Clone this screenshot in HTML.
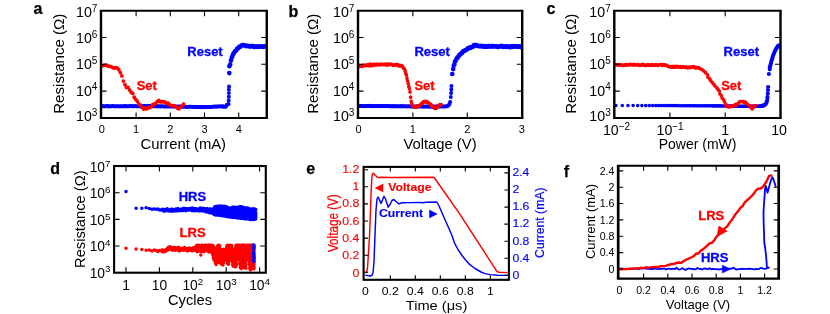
<!DOCTYPE html>
<html><head><meta charset="utf-8"><title>Figure</title>
<style>html,body{margin:0;padding:0;background:#fff}svg{display:block}</style></head>
<body><svg width="830" height="314" viewBox="0 0 830 314">
<rect width="830" height="314" fill="#fff"/>
<clipPath id="ca"><rect x="101.00" y="10.70" width="165.75" height="107.20"/></clipPath>
<path d="M101.9,106.3h0M102.7,106.0h0M103.4,106.2h0M104.2,106.2h0M105.0,106.2h0M105.8,106.2h0M106.5,106.1h0M107.3,106.2h0M108.1,106.1h0M108.9,106.4h0M109.6,106.2h0M110.4,106.2h0M111.2,106.2h0M111.9,106.2h0M112.7,106.1h0M113.5,106.2h0M114.3,106.2h0M115.0,106.2h0M115.8,106.3h0M116.6,106.2h0M117.4,106.2h0M118.1,106.3h0M118.9,106.2h0M119.7,106.2h0M120.5,106.2h0M121.2,106.2h0M122.0,106.3h0M122.8,106.2h0M123.5,106.2h0M124.3,106.3h0M125.1,106.1h0M125.9,106.2h0M126.6,106.3h0M127.4,106.2h0M128.2,106.2h0M129.0,106.2h0M129.7,106.0h0M130.5,106.3h0M131.3,106.1h0M132.0,106.1h0M132.8,106.2h0M133.6,106.2h0M134.4,106.2h0M135.1,106.1h0M135.9,106.2h0M136.7,106.2h0M137.5,106.3h0M138.2,106.3h0M139.0,106.2h0M139.8,106.3h0M140.5,106.2h0M141.3,106.1h0M142.1,106.2h0M142.9,106.2h0M143.6,106.2h0M144.4,106.1h0M145.2,106.2h0M146.0,106.0h0M146.7,106.2h0M147.5,106.2h0M148.3,106.1h0M149.0,106.2h0M149.8,106.1h0M150.6,106.3h0M151.4,106.1h0M152.1,106.1h0M152.9,106.2h0M153.7,106.3h0M154.5,106.1h0M155.2,106.2h0M156.0,106.3h0M156.8,106.2h0M157.6,106.4h0M158.3,106.2h0M159.1,106.3h0M159.9,106.2h0M160.6,106.4h0M161.4,106.3h0M162.2,106.3h0M163.0,106.3h0M163.7,106.5h0M164.5,106.5h0M165.3,106.5h0M166.1,106.5h0M166.8,106.5h0M167.6,106.4h0M168.4,106.4h0M169.1,106.4h0M169.9,106.6h0M170.7,106.4h0M171.5,106.5h0M172.2,106.5h0M173.0,106.6h0M173.8,106.6h0M174.6,106.5h0M175.3,106.5h0M176.1,106.6h0M176.9,106.7h0M177.6,106.7h0M178.4,106.7h0M179.2,106.6h0M180.0,106.7h0M180.7,106.7h0M181.5,106.8h0M182.3,106.7h0M183.1,106.7h0M183.8,106.7h0M184.6,106.8h0M185.4,106.8h0M186.1,107.0h0M186.9,106.9h0M187.7,106.9h0M188.5,106.7h0M189.2,106.8h0M190.0,106.8h0M190.8,106.9h0M191.6,106.7h0M192.3,107.0h0M193.1,107.0h0M193.9,106.8h0M194.7,106.9h0M195.4,106.9h0M196.2,107.0h0M197.0,107.0h0M197.7,107.1h0M198.5,107.0h0M199.3,107.1h0M200.1,107.0h0M200.8,107.2h0M201.6,107.1h0M202.4,107.2h0M203.2,107.0h0M203.9,107.1h0M204.7,107.0h0M205.5,107.2h0M206.2,107.1h0M207.0,107.1h0M207.8,107.1h0M208.6,107.1h0M209.3,107.0h0M210.1,106.9h0M210.9,107.0h0M211.7,107.1h0M212.4,106.8h0M213.2,106.8h0M214.0,106.7h0M214.7,106.6h0M215.5,106.7h0M216.3,106.7h0M217.1,106.6h0M217.8,106.6h0M218.6,106.5h0M219.4,106.5h0M220.2,106.3h0M220.9,106.4h0M221.7,106.4h0M222.5,106.3h0M223.2,106.3h0M224.0,107.0h0M224.8,106.8h0M225.6,106.7h0M226.3,105.9h0M227.1,104.6h0M228.6,104.0h0M228.7,100.5h0M228.8,96.7h0M228.9,93.0h0M228.9,89.5h0M229.0,86.5h0" stroke="#0000ff" stroke-width="4.0" stroke-linecap="round" fill="none" clip-path="url(#ca)"/>
<path d="M230.2,64.5h0M231.0,60.4h0M231.8,57.6h0M232.5,55.9h0M233.3,53.9h0M234.1,52.9h0M234.8,51.6h0M235.6,51.1h0M236.4,50.3h0M237.2,48.6h0M237.9,48.4h0M238.7,47.7h0M239.5,46.7h0M240.3,46.7h0M241.0,46.0h0M241.8,45.4h0M242.6,45.2h0M243.3,45.1h0M244.1,45.4h0M244.9,45.4h0M245.7,46.0h0M246.4,46.2h0M247.2,45.8h0M248.0,46.1h0M248.8,46.1h0M249.5,46.2h0M250.3,46.7h0M251.1,46.3h0M251.8,46.0h0M252.6,46.1h0M253.4,46.4h0M254.2,47.0h0M254.9,46.4h0M255.7,46.5h0M256.5,46.7h0M257.3,46.4h0M258.0,47.0h0M258.8,46.3h0M259.6,46.5h0M260.3,46.6h0M261.1,46.5h0M261.9,46.3h0M262.7,47.0h0M263.4,46.6h0M264.2,46.6h0M265.0,46.3h0M265.8,46.4h0M229.3,73.1h0M229.4,66.2h0" stroke="#0000ff" stroke-width="4.7" stroke-linecap="round" fill="none" clip-path="url(#ca)"/>
<path d="M101.9,65.6h0M103.4,65.6h0M105.0,65.3h0M106.5,65.2h0M108.1,66.0h0M109.6,66.4h0M111.1,66.6h0M112.7,67.6h0M114.2,68.1h0M115.8,67.8h0M117.3,68.1h0M118.8,69.7h0M120.4,72.6h0M121.9,75.9h0M123.4,81.1h0M125.0,84.8h0M126.5,87.4h0M128.1,87.4h0M129.6,90.0h0M131.1,92.2h0M132.7,93.4h0M134.2,97.2h0M135.8,99.4h0M137.3,101.3h0M138.8,104.0h0M140.4,105.3h0M141.9,107.2h0M143.5,109.1h0M145.0,107.9h0M146.5,108.9h0M148.1,107.7h0M149.6,107.8h0M151.1,106.7h0M152.7,104.6h0M154.2,104.3h0M155.8,103.3h0M157.3,101.6h0M158.8,100.5h0M160.4,101.9h0M161.9,101.8h0M163.5,101.6h0M165.0,102.3h0M166.5,103.2h0M168.1,103.2h0M169.6,104.6h0M171.2,105.6h0M172.7,105.6h0M174.2,105.8h0M175.8,106.7h0M177.3,108.0h0M178.9,108.7h0M180.4,107.3h0M181.9,105.9h0M183.5,104.3h0" stroke="#ff0000" stroke-width="3.9" stroke-linecap="round" fill="none" clip-path="url(#ca)"/>
<path d="M99.80,10.70H267.95M99.80,117.90H267.95" stroke="#000" stroke-width="2.0" fill="none"/>
<path d="M101.00,10.70V117.90M266.75,10.70V117.90" stroke="#000" stroke-width="2.4" fill="none"/>
<path d="M101.00,91.10L106.50,91.10M261.25,91.10L266.75,91.10M101.00,64.30L106.50,64.30M261.25,64.30L266.75,64.30M101.00,37.50L106.50,37.50M261.25,37.50L266.75,37.50M136.10,117.90L136.10,112.40M136.10,10.70L136.10,16.20M170.30,117.90L170.30,112.40M170.30,10.70L170.30,16.20M204.50,117.90L204.50,112.40M204.50,10.70L204.50,16.20M238.70,117.90L238.70,112.40M238.70,10.70L238.70,16.20" stroke="#000" stroke-width="1.1" fill="none"/>
<text x="97.40" y="121.10" font-size="14.2" text-anchor="end" font-family="Liberation Sans, Arial, sans-serif">10<tspan font-size="10" dy="-5.40">3</tspan></text>
<text x="97.40" y="95.60" font-size="14.2" text-anchor="end" font-family="Liberation Sans, Arial, sans-serif">10<tspan font-size="10" dy="-5.40">4</tspan></text>
<text x="97.40" y="69.40" font-size="14.2" text-anchor="end" font-family="Liberation Sans, Arial, sans-serif">10<tspan font-size="10" dy="-5.40">5</tspan></text>
<text x="97.40" y="42.90" font-size="14.2" text-anchor="end" font-family="Liberation Sans, Arial, sans-serif">10<tspan font-size="10" dy="-5.40">6</tspan></text>
<text x="97.40" y="17.00" font-size="14.2" text-anchor="end" font-family="Liberation Sans, Arial, sans-serif">10<tspan font-size="10" dy="-5.40">7</tspan></text>
<text x="101.90" y="133.10" font-size="11" text-anchor="middle" font-weight="normal" fill="#000" font-family="Liberation Sans, Arial, sans-serif" >0</text>
<text x="136.10" y="133.10" font-size="11" text-anchor="middle" font-weight="normal" fill="#000" font-family="Liberation Sans, Arial, sans-serif" >1</text>
<text x="170.30" y="133.10" font-size="11" text-anchor="middle" font-weight="normal" fill="#000" font-family="Liberation Sans, Arial, sans-serif" >2</text>
<text x="204.50" y="133.10" font-size="11" text-anchor="middle" font-weight="normal" fill="#000" font-family="Liberation Sans, Arial, sans-serif" >3</text>
<text x="238.70" y="133.10" font-size="11" text-anchor="middle" font-weight="normal" fill="#000" font-family="Liberation Sans, Arial, sans-serif" >4</text>
<text x="183.30" y="149.30" font-size="14.8" text-anchor="middle" font-weight="normal" fill="#000" font-family="Liberation Sans, Arial, sans-serif" >Current (mA)</text>
<text transform="translate(63.70,63.70) rotate(-90)" font-size="15.1" text-anchor="middle" font-weight="normal" fill="#000" font-family="Liberation Sans, Arial, sans-serif" >Resistance (Ω)</text>
<text x="33.50" y="13.50" font-size="16" text-anchor="start" font-weight="bold" fill="#000" font-family="Liberation Sans, Arial, sans-serif" stroke="#000" stroke-width="0.25">a</text>
<text x="146.80" y="90.00" font-size="13" text-anchor="middle" font-weight="bold" fill="#ff0000" font-family="Liberation Sans, Arial, sans-serif" stroke="#ff0000" stroke-width="0.3">Set</text>
<text x="205.00" y="55.60" font-size="13" text-anchor="middle" font-weight="bold" fill="#0000ff" font-family="Liberation Sans, Arial, sans-serif" stroke="#0000ff" stroke-width="0.3">Reset</text>
<clipPath id="cb"><rect x="358.00" y="10.70" width="164.20" height="107.20"/></clipPath>
<path d="M358.5,106.0h0M359.1,106.0h0M359.7,106.0h0M360.3,105.9h0M361.0,105.9h0M361.6,106.0h0M362.2,105.9h0M362.8,106.0h0M363.4,106.1h0M364.0,106.0h0M364.6,106.2h0M365.3,106.1h0M365.9,106.0h0M366.5,106.1h0M367.1,106.1h0M367.7,106.0h0M368.3,106.1h0M369.0,106.0h0M369.6,105.8h0M370.2,106.1h0M370.8,106.0h0M371.4,106.2h0M372.0,106.0h0M372.6,106.0h0M373.3,106.2h0M373.9,106.0h0M374.5,106.1h0M375.1,106.2h0M375.7,106.1h0M376.3,106.1h0M376.9,106.1h0M377.6,106.2h0M378.2,106.0h0M378.8,106.1h0M379.4,106.1h0M380.0,106.3h0M380.6,106.1h0M381.2,106.0h0M381.9,106.2h0M382.5,106.1h0M383.1,106.1h0M383.7,106.1h0M384.3,106.2h0M384.9,106.1h0M385.5,106.1h0M386.2,106.0h0M386.8,106.1h0M387.4,106.2h0M388.0,106.1h0M388.6,106.1h0M389.2,106.1h0M389.9,106.2h0M390.5,106.2h0M391.1,106.1h0M391.7,106.2h0M392.3,106.2h0M392.9,106.2h0M393.5,106.1h0M394.2,106.3h0M394.8,106.2h0M395.4,106.2h0M396.0,106.1h0M396.6,106.2h0M397.2,106.2h0M397.8,106.2h0M398.5,106.3h0M399.1,106.2h0M399.7,106.3h0M400.3,106.3h0M400.9,106.2h0M401.5,106.1h0M402.1,106.3h0M402.8,106.3h0M403.4,106.3h0M404.0,106.3h0M404.6,106.2h0M405.2,106.3h0M405.8,106.2h0M406.4,106.4h0M407.1,106.3h0M407.7,106.3h0M408.3,106.2h0M408.9,106.3h0M409.5,106.5h0M410.1,106.4h0M410.8,106.3h0M411.4,106.5h0M412.0,106.5h0M412.6,106.5h0M413.2,106.5h0M413.8,106.5h0M414.4,106.5h0M415.1,106.5h0M415.7,106.4h0M416.3,106.6h0M416.9,106.5h0M417.5,106.6h0M418.1,106.4h0M418.7,106.6h0M419.4,106.6h0M420.0,106.5h0M420.6,106.6h0M421.2,106.6h0M421.8,106.6h0M422.4,106.5h0M423.0,106.6h0M423.7,106.7h0M424.3,106.7h0M424.9,106.6h0M425.5,106.6h0M426.1,106.6h0M426.7,106.7h0M427.3,106.6h0M428.0,106.6h0M428.6,106.7h0M429.2,106.6h0M429.8,106.7h0M430.4,106.7h0M431.0,106.7h0M431.7,106.6h0M432.3,106.7h0M432.9,106.5h0M433.5,106.7h0M434.1,106.5h0M434.7,106.5h0M435.3,106.7h0M436.0,106.6h0M436.6,106.6h0M437.2,106.6h0M437.8,106.6h0M438.4,106.6h0M439.0,106.6h0M439.6,106.6h0M440.3,106.5h0M440.9,106.5h0M441.5,106.5h0M442.1,106.6h0M442.7,106.6h0M443.3,106.6h0M443.9,106.5h0M444.6,106.5h0M445.2,106.5h0M445.8,106.3h0M446.4,106.3h0M447.0,106.2h0M447.6,106.0h0M448.2,105.7h0M448.9,104.8h0M449.5,104.1h0M450.1,102.0h0M450.8,97.0h0M451.1,93.0h0M451.3,89.5h0M451.5,86.0h0" stroke="#0000ff" stroke-width="4.0" stroke-linecap="round" fill="none" clip-path="url(#cb)"/>
<path d="M453.2,69.1h0M453.8,65.8h0M454.4,64.4h0M455.0,61.6h0M455.6,61.0h0M456.2,59.5h0M456.9,58.4h0M457.5,57.7h0M458.1,57.0h0M458.7,56.1h0M459.3,55.0h0M459.9,54.7h0M460.5,54.0h0M461.2,53.5h0M461.8,53.2h0M462.4,52.3h0M463.0,51.7h0M463.6,51.2h0M464.2,50.8h0M464.8,50.8h0M465.5,50.0h0M466.1,50.0h0M466.7,49.5h0M467.3,49.0h0M467.9,48.3h0M468.5,48.2h0M469.1,48.2h0M469.8,47.3h0M470.4,47.9h0M471.0,47.6h0M471.6,47.1h0M472.2,46.8h0M472.8,46.9h0M473.5,46.1h0M474.1,45.1h0M474.7,45.1h0M475.3,45.2h0M475.9,45.4h0M476.5,45.0h0M477.1,46.0h0M477.8,45.9h0M478.4,46.0h0M479.0,46.0h0M479.6,46.3h0M480.2,46.1h0M480.8,45.9h0M481.4,46.3h0M482.1,46.6h0M482.7,46.2h0M483.3,46.6h0M483.9,46.4h0M484.5,46.2h0M485.1,46.8h0M485.7,46.3h0M486.4,46.7h0M487.0,46.3h0M487.6,46.6h0M488.2,46.0h0M488.8,46.2h0M489.4,46.7h0M490.1,46.5h0M490.7,46.4h0M491.3,46.2h0M491.9,46.6h0M492.5,46.2h0M493.1,46.1h0M493.7,46.4h0M494.4,46.3h0M495.0,46.3h0M495.6,46.3h0M496.2,46.5h0M496.8,46.4h0M497.4,47.0h0M498.0,46.7h0M498.7,46.8h0M499.3,46.5h0M499.9,46.4h0M500.5,46.1h0M501.1,46.4h0M501.7,45.9h0M502.3,46.2h0M503.0,46.8h0M503.6,46.9h0M504.2,46.7h0M504.8,46.4h0M505.4,46.6h0M506.0,46.3h0M506.6,46.8h0M507.3,46.6h0M507.9,46.6h0M508.5,46.9h0M509.1,46.7h0M509.7,47.2h0M510.3,46.5h0M511.0,46.4h0M511.6,46.9h0M512.2,46.9h0M512.8,46.4h0M513.4,46.6h0M514.0,46.2h0M514.6,46.5h0M515.3,46.7h0M515.9,46.6h0M516.5,46.4h0M517.1,46.3h0M517.7,46.8h0M518.3,46.7h0M518.9,46.6h0M519.6,46.6h0M520.2,46.3h0M520.8,47.1h0M452.3,74.0h0" stroke="#0000ff" stroke-width="4.7" stroke-linecap="round" fill="none" clip-path="url(#cb)"/>
<path d="M358.5,66.3h0M359.1,66.6h0M359.7,65.5h0M360.3,66.2h0M360.9,66.1h0M361.5,66.2h0M362.1,66.4h0M362.7,66.0h0M363.3,65.2h0M363.9,65.6h0M364.5,65.7h0M365.1,65.6h0M365.7,65.1h0M366.3,64.9h0M366.9,65.6h0M367.5,65.5h0M368.1,65.3h0M368.7,64.6h0M369.3,65.8h0M369.9,64.1h0M370.5,64.9h0M371.1,65.7h0M371.7,64.9h0M372.3,65.0h0M372.9,64.4h0M373.5,65.3h0M374.1,64.3h0M374.7,64.8h0M375.3,64.8h0M375.9,64.3h0M376.5,65.0h0M377.1,64.1h0M377.6,64.4h0M378.2,64.6h0M378.8,64.4h0M379.4,64.7h0M380.0,64.8h0M380.6,64.3h0M381.2,64.2h0M381.8,64.2h0M382.4,64.3h0M383.0,64.7h0M383.6,64.4h0M384.2,64.6h0M384.8,64.4h0M385.4,64.2h0M386.0,64.8h0M386.6,64.2h0M387.2,64.5h0M387.8,65.1h0M388.4,64.2h0M389.0,64.6h0M389.6,64.0h0M390.2,64.4h0M390.8,64.1h0M391.4,64.5h0M392.0,64.5h0M392.6,64.8h0M393.2,65.3h0M393.8,64.9h0M394.4,65.1h0M395.0,64.8h0M395.6,64.8h0M396.2,64.6h0M396.8,64.4h0M397.4,65.1h0M398.0,65.7h0M398.6,65.4h0M399.2,65.2h0M399.8,66.1h0M400.4,65.5h0M401.0,65.5h0M401.6,65.5h0M402.2,66.1h0M402.8,66.8h0M403.4,68.1h0M404.0,68.4h0M404.6,69.3h0M405.2,71.0h0M405.8,73.4h0M406.4,75.1h0M407.0,78.3h0M407.6,81.1h0M408.2,83.6h0M408.8,86.4h0M409.4,88.5h0M410.0,91.9h0M410.6,97.2h0M411.2,101.3h0M411.8,103.8h0M412.4,105.5h0M413.0,106.4h0M413.6,106.8h0M414.2,106.9h0M414.7,106.8h0M415.3,107.2h0M415.9,107.2h0M416.5,107.2h0M417.1,106.3h0M417.7,105.6h0M418.3,106.1h0M418.9,105.5h0M419.5,105.7h0M420.1,105.3h0M420.7,104.6h0M421.3,103.8h0M421.9,103.3h0M422.5,103.1h0M423.1,101.9h0M423.7,102.2h0M424.3,101.8h0M424.9,101.3h0M425.5,101.9h0M426.1,101.4h0M426.7,102.2h0M427.3,101.9h0M427.9,102.4h0M428.5,102.7h0M429.1,103.7h0M429.7,103.6h0M430.3,104.4h0M430.9,104.4h0M431.5,105.5h0M432.1,106.3h0M432.7,106.2h0M433.3,107.2h0M433.9,107.3h0M434.5,108.2h0M435.1,107.7h0M435.7,107.3h0M436.3,108.4h0M436.9,107.5h0M437.5,106.8h0M438.1,106.4h0M438.7,105.4h0M439.3,105.3h0M439.9,104.5h0M440.5,105.1h0M441.1,104.7h0" stroke="#ff0000" stroke-width="3.7" stroke-linecap="round" fill="none" clip-path="url(#cb)"/>
<path d="M356.80,10.70H523.40M356.80,117.90H523.40" stroke="#000" stroke-width="2.0" fill="none"/>
<path d="M358.00,10.70V117.90M522.20,10.70V117.90" stroke="#000" stroke-width="2.4" fill="none"/>
<path d="M358.00,91.10L363.50,91.10M516.70,91.10L522.20,91.10M358.00,64.30L363.50,64.30M516.70,64.30L522.20,64.30M358.00,37.50L363.50,37.50M516.70,37.50L522.20,37.50M412.90,117.90L412.90,112.40M412.90,10.70L412.90,16.20M467.30,117.90L467.30,112.40M467.30,10.70L467.30,16.20" stroke="#000" stroke-width="1.1" fill="none"/>
<text x="354.40" y="121.10" font-size="14.2" text-anchor="end" font-family="Liberation Sans, Arial, sans-serif">10<tspan font-size="10" dy="-5.40">3</tspan></text>
<text x="354.40" y="95.60" font-size="14.2" text-anchor="end" font-family="Liberation Sans, Arial, sans-serif">10<tspan font-size="10" dy="-5.40">4</tspan></text>
<text x="354.40" y="69.40" font-size="14.2" text-anchor="end" font-family="Liberation Sans, Arial, sans-serif">10<tspan font-size="10" dy="-5.40">5</tspan></text>
<text x="354.40" y="42.90" font-size="14.2" text-anchor="end" font-family="Liberation Sans, Arial, sans-serif">10<tspan font-size="10" dy="-5.40">6</tspan></text>
<text x="354.40" y="17.00" font-size="14.2" text-anchor="end" font-family="Liberation Sans, Arial, sans-serif">10<tspan font-size="10" dy="-5.40">7</tspan></text>
<text x="358.50" y="133.10" font-size="11" text-anchor="middle" font-weight="normal" fill="#000" font-family="Liberation Sans, Arial, sans-serif" >0</text>
<text x="412.90" y="133.10" font-size="11" text-anchor="middle" font-weight="normal" fill="#000" font-family="Liberation Sans, Arial, sans-serif" >1</text>
<text x="467.30" y="133.10" font-size="11" text-anchor="middle" font-weight="normal" fill="#000" font-family="Liberation Sans, Arial, sans-serif" >2</text>
<text x="521.70" y="133.10" font-size="11" text-anchor="middle" font-weight="normal" fill="#000" font-family="Liberation Sans, Arial, sans-serif" >3</text>
<text x="440.00" y="149.30" font-size="14.8" text-anchor="middle" font-weight="normal" fill="#000" font-family="Liberation Sans, Arial, sans-serif" >Voltage (V)</text>
<text transform="translate(318.40,63.70) rotate(-90)" font-size="15.1" text-anchor="middle" font-weight="normal" fill="#000" font-family="Liberation Sans, Arial, sans-serif" >Resistance (Ω)</text>
<text x="288.60" y="16.80" font-size="16" text-anchor="start" font-weight="bold" fill="#000" font-family="Liberation Sans, Arial, sans-serif" stroke="#000" stroke-width="0.25">b</text>
<text x="424.50" y="90.00" font-size="13" text-anchor="middle" font-weight="bold" fill="#ff0000" font-family="Liberation Sans, Arial, sans-serif" stroke="#ff0000" stroke-width="0.3">Set</text>
<text x="432.20" y="55.60" font-size="13" text-anchor="middle" font-weight="bold" fill="#0000ff" font-family="Liberation Sans, Arial, sans-serif" stroke="#0000ff" stroke-width="0.3">Reset</text>
<clipPath id="cc"><rect x="614.30" y="10.70" width="166.20" height="107.20"/></clipPath>
<path d="M615.9,105.5h0M622.3,105.5h0M628.0,105.5h0M633.1,105.5h0M637.7,105.6h0M641.9,105.6h0M645.7,105.6h0M649.3,105.6h0M652.6,105.6h0M655.8,105.6h0M658.7,105.6h0M661.4,105.6h0M664.0,105.6h0M666.5,105.6h0M668.9,105.6h0M671.1,105.6h0M673.2,105.6h0M675.3,105.6h0M677.3,105.6h0M679.2,105.7h0M681.0,105.7h0M682.7,105.7h0M684.4,105.7h0M686.1,105.7h0M687.6,105.7h0M689.2,105.7h0M690.6,105.7h0M692.1,105.7h0M693.5,105.7h0M694.8,105.7h0M696.2,105.7h0M697.5,105.7h0M698.7,105.7h0M699.9,105.7h0M701.1,105.7h0M702.3,105.7h0M703.4,105.7h0M704.5,105.8h0M705.6,105.8h0M706.7,105.8h0M707.7,105.8h0M708.7,105.8h0M709.7,105.8h0M710.7,105.8h0M711.6,105.8h0M712.6,105.9h0M713.5,105.9h0M714.4,105.9h0M715.3,105.9h0M716.1,105.9h0M717.0,105.9h0M717.8,105.9h0M718.7,105.9h0M719.5,105.9h0M720.3,105.9h0M721.0,106.0h0M721.8,106.0h0M722.6,106.0h0M723.3,106.0h0M724.1,106.0h0M724.8,106.0h0M725.5,106.0h0M726.2,106.0h0M726.9,106.0h0M727.6,106.0h0M728.3,106.0h0M728.9,106.0h0M729.6,106.1h0M730.2,106.1h0M730.9,106.1h0M731.5,106.1h0M732.1,106.1h0M732.7,106.1h0M733.3,106.1h0M733.9,106.1h0M734.5,106.1h0M735.1,106.1h0M735.7,106.1h0M736.3,106.1h0M736.8,106.1h0M737.4,106.1h0M737.9,106.2h0M738.5,106.2h0M739.0,106.2h0M739.5,106.2h0M740.1,106.2h0M740.6,106.2h0M741.1,106.2h0M741.6,106.2h0M742.1,106.2h0M742.6,106.2h0M743.1,106.2h0M743.6,106.2h0M744.1,106.2h0M744.6,106.2h0M745.0,106.2h0M745.5,106.2h0M746.0,106.3h0M746.4,106.3h0M746.9,106.3h0M747.4,106.3h0M747.8,106.3h0M748.2,106.3h0M748.7,106.3h0M749.1,106.3h0M749.6,106.3h0M750.0,106.3h0M750.4,106.3h0M750.8,106.3h0M751.2,106.3h0M751.7,106.3h0M752.1,106.3h0M752.5,106.3h0M752.9,106.3h0M753.3,106.3h0M753.7,106.3h0M754.1,106.3h0M754.5,106.3h0M754.9,106.3h0M755.2,106.2h0M755.6,106.2h0M756.0,106.2h0M756.4,106.2h0M756.7,106.2h0M757.1,106.2h0M757.5,106.2h0M757.8,106.2h0M758.2,106.2h0M758.6,106.2h0M758.9,106.2h0M759.3,106.2h0M759.6,106.2h0M760.0,106.2h0M760.3,106.1h0M760.7,106.1h0M761.0,106.0h0M761.3,106.0h0M761.7,105.9h0" stroke="#0000ff" stroke-width="3.6" stroke-linecap="round" fill="none" clip-path="url(#cc)"/>
<path d="M762.0,105.8h0M762.3,105.8h0M762.7,105.7h0M763.0,105.7h0M763.3,105.6h0M763.6,105.6h0M764.0,105.5h0M764.3,105.3h0M764.6,105.1h0M764.9,104.8h0M765.2,104.6h0M765.5,104.4h0M765.8,104.1h0M766.1,103.6h0M766.4,102.7h0M766.8,101.7h0M767.1,100.6h0M767.4,98.2h0M769.7,69.3h0M770.0,67.3h0M770.2,66.0h0M770.5,64.9h0M770.8,63.8h0M771.1,62.7h0M771.3,61.6h0M771.6,60.6h0M771.9,59.7h0M772.2,58.8h0M772.4,57.9h0M772.7,57.0h0M773.0,56.1h0M773.2,55.4h0M773.5,54.8h0M773.8,54.1h0M774.0,53.5h0M774.3,52.8h0M774.5,52.2h0M774.8,51.5h0M775.0,50.9h0M775.3,50.5h0M775.5,50.1h0M775.8,49.6h0M776.0,49.2h0M776.3,48.7h0M776.5,48.3h0M776.8,47.9h0M777.0,47.5h0M777.3,47.1h0M777.5,46.8h0M777.7,46.5h0M778.0,46.2h0M778.2,45.9h0M778.5,45.5h0M778.7,45.6h0M778.9,45.8h0M779.2,45.9h0M779.4,46.1h0M779.6,46.3h0M767.5,97.0h0M767.8,93.5h0M768.0,90.0h0M768.1,87.0h0M768.9,74.0h0M769.8,67.0h0" stroke="#0000ff" stroke-width="4.2" stroke-linecap="round" fill="none" clip-path="url(#cc)"/>
<path d="M614.8,64.7h0M615.7,64.7h0M616.6,65.0h0M617.5,64.5h0M618.4,65.1h0M619.3,65.1h0M620.2,64.8h0M621.1,64.9h0M622.0,65.2h0M622.9,65.4h0M623.8,65.4h0M624.7,64.9h0M625.6,65.2h0M626.5,64.7h0M627.4,65.0h0M628.3,64.6h0M629.2,65.0h0M630.1,64.4h0M631.0,64.5h0M631.9,64.8h0M632.8,65.0h0M633.7,64.4h0M634.6,64.7h0M635.5,64.9h0M636.4,65.0h0M637.3,64.7h0M638.2,65.0h0M639.1,64.9h0M640.0,65.4h0M640.9,65.1h0M641.8,64.6h0M642.7,64.3h0M643.6,65.0h0M644.5,65.4h0M645.4,65.1h0M646.3,65.3h0M647.2,64.9h0M648.1,64.7h0M649.0,65.3h0M649.9,65.1h0M650.8,65.3h0M651.7,64.7h0M652.6,65.1h0M653.5,64.9h0M654.4,65.3h0M655.3,64.9h0M656.2,64.9h0M657.1,64.9h0M658.0,65.4h0M658.9,65.1h0M659.8,64.8h0M660.7,64.7h0M661.6,64.7h0M662.5,65.5h0M663.4,64.5h0M664.3,64.8h0M665.2,65.2h0M666.1,65.4h0M667.0,65.3h0M667.9,66.2h0M668.8,66.6h0M669.7,66.8h0M670.6,66.5h0M671.5,67.1h0M672.4,66.7h0M673.3,67.2h0M674.2,66.4h0M675.1,67.1h0M676.0,66.5h0M676.9,66.4h0M677.8,67.0h0M678.7,66.7h0M679.6,67.1h0M680.5,66.6h0M681.4,67.5h0M682.3,67.0h0M683.2,66.7h0M684.1,67.1h0M685.0,67.4h0M685.9,66.9h0M686.8,67.3h0M687.7,67.8h0M688.6,67.4h0M689.5,67.2h0M690.4,67.1h0M691.3,67.5h0M692.2,66.9h0M693.1,66.5h0M694.0,67.3h0M694.9,67.2h0M695.8,68.1h0M696.7,67.7h0M697.6,67.5h0M698.5,67.5h0M699.4,68.3h0M701.8,69.4h0M703.8,71.0h0M705.6,72.7h0M707.6,74.9h0M707.9,77.2h0M709.7,78.8h0M710.6,80.5h0M712.2,82.4h0M713.9,84.3h0M714.9,85.8h0M716.9,87.8h0M718.0,89.4h0M719.3,91.1h0M720.0,93.9h0M721.3,95.6h0M722.1,98.1h0M723.8,99.8h0M724.4,101.7h0M725.8,104.3h0M726.4,106.2h0M728.0,106.7h0M729.1,106.9h0M730.2,106.7h0M731.3,106.0h0M732.4,105.8h0M733.5,106.0h0M734.6,105.2h0M735.7,104.4h0M736.8,105.1h0M737.9,103.5h0M739.0,102.4h0M740.1,101.6h0M741.2,101.5h0M742.3,101.6h0M743.4,101.6h0M744.5,102.5h0M745.6,102.2h0M746.7,103.6h0M747.8,104.5h0M748.9,105.6h0M750.0,106.8h0M751.1,106.4h0M752.2,108.9h0M753.3,107.3h0M754.4,106.5h0M755.5,105.5h0" stroke="#ff0000" stroke-width="3.7" stroke-linecap="round" fill="none" clip-path="url(#cc)"/>
<path d="M613.10,10.70H781.70M613.10,117.90H781.70" stroke="#000" stroke-width="2.0" fill="none"/>
<path d="M614.30,10.70V117.90M780.50,10.70V117.90" stroke="#000" stroke-width="2.4" fill="none"/>
<path d="M614.30,91.10L619.80,91.10M775.00,91.10L780.50,91.10M614.30,64.30L619.80,64.30M775.00,64.30L780.50,64.30M614.30,37.50L619.80,37.50M775.00,37.50L780.50,37.50M669.90,117.90L669.90,112.40M669.90,10.70L669.90,16.20M725.20,117.90L725.20,112.40M725.20,10.70L725.20,16.20" stroke="#000" stroke-width="1.1" fill="none"/>
<text x="610.70" y="121.10" font-size="14.2" text-anchor="end" font-family="Liberation Sans, Arial, sans-serif">10<tspan font-size="10" dy="-5.40">3</tspan></text>
<text x="610.70" y="95.60" font-size="14.2" text-anchor="end" font-family="Liberation Sans, Arial, sans-serif">10<tspan font-size="10" dy="-5.40">4</tspan></text>
<text x="610.70" y="69.40" font-size="14.2" text-anchor="end" font-family="Liberation Sans, Arial, sans-serif">10<tspan font-size="10" dy="-5.40">5</tspan></text>
<text x="610.70" y="42.90" font-size="14.2" text-anchor="end" font-family="Liberation Sans, Arial, sans-serif">10<tspan font-size="10" dy="-5.40">6</tspan></text>
<text x="610.70" y="17.00" font-size="14.2" text-anchor="end" font-family="Liberation Sans, Arial, sans-serif">10<tspan font-size="10" dy="-5.40">7</tspan></text>
<text x="616.50" y="135.3" font-size="14.2" text-anchor="middle" font-family="Liberation Sans, Arial, sans-serif">10<tspan font-size="10" dy="-5.4">−2</tspan></text>
<text x="670.10" y="135.3" font-size="14.2" text-anchor="middle" font-family="Liberation Sans, Arial, sans-serif">10<tspan font-size="10" dy="-5.4">−1</tspan></text>
<text x="725.20" y="135.30" font-size="14.2" text-anchor="middle" font-weight="normal" fill="#000" font-family="Liberation Sans, Arial, sans-serif" >1</text>
<text x="779.10" y="135.30" font-size="14.2" text-anchor="middle" font-weight="normal" fill="#000" font-family="Liberation Sans, Arial, sans-serif" >10</text>
<text x="697.60" y="149.30" font-size="14.0" text-anchor="middle" font-weight="normal" fill="#000" font-family="Liberation Sans, Arial, sans-serif" >Power (mW)</text>
<text transform="translate(575.50,63.70) rotate(-90)" font-size="15.1" text-anchor="middle" font-weight="normal" fill="#000" font-family="Liberation Sans, Arial, sans-serif" >Resistance (Ω)</text>
<text x="546.60" y="13.60" font-size="16" text-anchor="start" font-weight="bold" fill="#000" font-family="Liberation Sans, Arial, sans-serif" stroke="#000" stroke-width="0.25">c</text>
<text x="731.30" y="90.00" font-size="13" text-anchor="middle" font-weight="bold" fill="#ff0000" font-family="Liberation Sans, Arial, sans-serif" stroke="#ff0000" stroke-width="0.3">Set</text>
<text x="741.30" y="55.60" font-size="13" text-anchor="middle" font-weight="bold" fill="#0000ff" font-family="Liberation Sans, Arial, sans-serif" stroke="#0000ff" stroke-width="0.3">Reset</text>
<rect x="114.10" y="166.00" width="151.70" height="106.70" fill="none" stroke="#000" stroke-width="2.1"/>
<path d="M114.10,246.02L119.60,246.02M260.30,246.02L265.80,246.02M114.10,219.35L119.60,219.35M260.30,219.35L265.80,219.35M114.10,192.68L119.60,192.68M260.30,192.68L265.80,192.68M126.00,272.70L126.00,267.20M126.00,166.00L126.00,171.50M159.40,272.70L159.40,267.20M159.40,166.00L159.40,171.50M192.80,272.70L192.80,267.20M192.80,166.00L192.80,171.50M226.20,272.70L226.20,267.20M226.20,166.00L226.20,171.50M259.60,272.70L259.60,267.20M259.60,166.00L259.60,171.50" stroke="#000" stroke-width="1.1" fill="none"/>
<text x="110.50" y="277.60" font-size="13.8" text-anchor="end" font-family="Liberation Sans, Arial, sans-serif">10<tspan font-size="9.8" dy="-5.24">3</tspan></text>
<text x="110.50" y="251.20" font-size="13.8" text-anchor="end" font-family="Liberation Sans, Arial, sans-serif">10<tspan font-size="9.8" dy="-5.24">4</tspan></text>
<text x="110.50" y="224.80" font-size="13.8" text-anchor="end" font-family="Liberation Sans, Arial, sans-serif">10<tspan font-size="9.8" dy="-5.24">5</tspan></text>
<text x="110.50" y="198.40" font-size="13.8" text-anchor="end" font-family="Liberation Sans, Arial, sans-serif">10<tspan font-size="9.8" dy="-5.24">6</tspan></text>
<text x="110.50" y="172.00" font-size="13.8" text-anchor="end" font-family="Liberation Sans, Arial, sans-serif">10<tspan font-size="9.8" dy="-5.24">7</tspan></text>
<text x="126.00" y="290.10" font-size="13.8" text-anchor="middle" font-weight="normal" fill="#000" font-family="Liberation Sans, Arial, sans-serif" >1</text>
<text x="159.40" y="290.10" font-size="13.8" text-anchor="middle" font-weight="normal" fill="#000" font-family="Liberation Sans, Arial, sans-serif" >10</text>
<text x="192.80" y="290.1" font-size="13.8" text-anchor="middle" font-family="Liberation Sans, Arial, sans-serif">10<tspan font-size="9.8" dy="-5.2">2</tspan></text>
<text x="226.20" y="290.1" font-size="13.8" text-anchor="middle" font-family="Liberation Sans, Arial, sans-serif">10<tspan font-size="9.8" dy="-5.2">3</tspan></text>
<text x="259.60" y="290.1" font-size="13.8" text-anchor="middle" font-family="Liberation Sans, Arial, sans-serif">10<tspan font-size="9.8" dy="-5.2">4</tspan></text>
<text x="190.00" y="304.60" font-size="14.7" text-anchor="middle" font-weight="normal" fill="#000" font-family="Liberation Sans, Arial, sans-serif" >Cycles</text>
<text transform="translate(85.00,219.20) rotate(-90)" font-size="14.7" text-anchor="middle" font-weight="normal" fill="#000" font-family="Liberation Sans, Arial, sans-serif" >Resistance (Ω)</text>
<text x="50.30" y="174.00" font-size="16" text-anchor="start" font-weight="bold" fill="#000" font-family="Liberation Sans, Arial, sans-serif" stroke="#000" stroke-width="0.25">d</text>
<path d="M126.0,191.6h0M136.1,208.2h0M141.9,208.3h0M146.1,207.7h0M149.3,208.5h0M152.0,209.2h0M154.2,209.0h0M156.2,209.2h0M157.9,209.0h0M159.4,210.0h0M160.8,210.0h0M162.0,209.4h0M162.2,209.9h0M162.5,209.9h0M162.7,209.3h0M162.9,209.9h0M163.1,210.2h0M163.4,210.4h0M163.6,210.9h0M163.8,210.1h0M164.0,209.8h0M164.3,210.4h0M164.5,209.7h0M164.7,209.4h0M164.9,210.9h0M165.2,210.0h0M165.4,210.3h0M165.6,210.6h0M165.8,209.5h0M166.1,210.6h0M166.3,210.5h0M166.5,210.2h0M166.7,210.5h0M167.0,209.7h0M167.2,208.8h0M167.4,210.1h0M167.6,209.7h0M167.9,210.8h0M168.1,210.4h0M168.3,209.9h0M168.5,210.3h0M168.8,211.1h0M169.0,211.0h0M169.2,210.5h0M169.4,210.6h0M169.7,210.1h0M169.9,210.2h0M170.1,210.7h0M170.3,210.2h0M170.6,210.5h0M170.8,209.6h0M171.0,209.2h0M171.2,209.2h0M171.5,210.0h0M171.7,211.2h0M171.9,211.1h0M172.1,209.7h0M172.4,209.3h0M172.6,210.8h0M172.8,210.6h0M173.0,209.4h0M173.3,210.9h0M173.5,210.3h0M173.7,211.1h0M173.9,210.4h0M174.2,210.8h0M174.4,210.4h0M174.6,209.5h0M174.8,210.0h0M175.1,209.7h0M175.3,210.7h0M175.5,209.4h0M175.7,209.1h0M176.0,210.5h0M176.2,210.8h0M176.4,211.0h0M176.6,210.7h0M176.9,209.0h0M177.1,209.5h0M177.3,209.6h0M177.5,210.0h0M177.8,208.5h0M178.0,209.9h0M178.2,210.1h0M178.4,209.3h0M178.7,210.0h0M178.9,210.7h0M179.1,209.9h0M179.3,210.5h0M179.6,210.5h0M179.8,210.1h0M180.0,210.1h0M180.2,209.6h0M180.5,210.6h0M180.7,209.5h0M180.9,209.3h0M181.1,210.2h0M181.4,209.3h0M181.6,210.0h0M181.8,210.4h0M182.0,209.8h0M182.3,209.7h0M182.5,210.3h0M182.7,210.1h0M182.9,208.7h0M183.2,208.8h0M183.4,210.5h0M183.6,209.9h0M183.8,208.2h0M184.1,208.7h0M184.3,209.6h0M184.5,208.9h0M184.7,209.9h0M185.0,209.6h0M185.2,209.8h0M185.4,208.7h0M185.6,209.9h0M185.9,210.7h0M186.1,209.0h0M186.3,210.3h0M186.5,210.1h0M186.8,209.8h0M187.0,209.4h0M187.2,208.7h0M187.4,208.8h0M187.7,209.9h0M187.9,210.1h0M188.1,210.2h0M188.3,210.1h0M188.6,210.0h0M188.8,209.2h0M189.0,208.7h0M189.2,209.6h0M189.5,209.8h0M189.7,209.5h0M189.9,208.5h0M190.1,209.1h0M190.4,208.5h0M190.6,209.6h0M190.8,208.8h0M191.0,209.4h0M191.3,209.7h0M191.5,209.6h0M191.7,210.4h0M191.9,208.8h0M192.2,208.1h0M192.4,210.1h0M192.6,210.5h0M192.8,210.5h0M193.1,209.7h0M193.3,209.9h0M193.5,209.6h0M193.7,208.7h0M194.0,209.2h0M194.2,209.9h0M194.4,209.2h0M194.6,210.8h0M194.9,208.6h0M195.1,209.3h0M195.3,210.3h0M195.5,209.2h0M195.8,208.9h0M196.0,208.7h0M196.2,209.2h0M196.4,210.6h0M196.7,209.9h0M196.9,210.0h0M197.1,209.3h0M197.3,210.2h0M197.6,209.8h0M197.8,209.1h0M198.0,209.4h0M198.2,209.8h0M198.5,210.5h0M198.7,209.7h0M198.9,210.1h0M199.1,211.1h0M199.4,209.3h0M199.6,209.0h0M199.8,210.4h0M200.0,210.1h0M200.3,208.1h0M200.4,210.5h0M200.6,208.3h0M200.6,210.3h0M201.3,208.2h0M201.2,210.6h0M201.6,208.5h0M201.4,210.8h0M202.0,208.8h0M202.1,210.6h0M202.8,208.8h0M202.7,210.8h0M203.2,208.4h0M202.9,210.2h0M203.5,208.6h0M203.6,210.6h0M203.9,208.7h0M204.0,210.9h0M204.1,208.6h0M204.4,211.0h0M204.8,209.2h0M204.9,211.2h0M205.2,209.0h0M205.2,211.2h0M205.9,209.1h0M205.5,211.2h0M206.3,209.0h0M206.1,210.4h0M205.8,211.8h0M206.4,208.9h0M206.4,210.4h0M206.5,211.9h0M206.8,208.8h0M207.4,210.2h0M207.0,211.5h0M207.5,209.0h0M207.9,210.3h0M207.7,211.7h0M207.9,209.0h0M207.9,210.5h0M208.1,212.0h0M208.4,209.2h0M208.4,211.4h0M208.7,209.4h0M208.9,211.4h0M209.4,209.0h0M209.2,210.8h0M209.3,212.7h0M209.9,209.6h0M209.6,211.7h0M210.4,209.3h0M210.1,210.7h0M210.1,212.1h0M210.7,209.0h0M210.7,210.8h0M210.7,212.6h0M211.4,209.4h0M211.3,211.1h0M210.8,212.8h0M211.3,209.5h0M211.7,211.1h0M211.4,212.7h0M211.9,209.2h0M211.9,211.0h0M212.0,212.9h0M212.2,209.7h0M212.4,211.5h0M212.4,213.3h0M213.0,210.1h0M213.1,211.7h0M212.9,213.3h0M213.2,209.0h0M213.3,210.5h0M213.4,212.1h0M213.2,213.7h0M214.0,208.5h0M213.7,209.8h0M213.8,211.2h0M214.0,212.5h0M213.9,213.8h0M214.5,207.9h0M214.2,209.5h0M214.3,211.1h0M214.6,212.7h0M214.2,214.4h0M214.6,207.0h0M214.9,208.4h0M214.7,209.9h0M214.5,211.3h0M214.6,212.8h0M214.7,214.2h0M215.3,206.9h0M215.1,208.5h0M215.2,210.0h0M215.2,211.5h0M215.2,213.1h0M215.1,214.6h0M215.4,206.6h0M215.6,208.0h0M215.7,209.4h0M215.8,210.7h0M215.6,212.1h0M215.6,213.5h0M215.6,214.9h0M216.1,206.8h0M216.1,208.2h0M215.9,209.6h0M216.0,211.0h0M215.7,212.4h0M216.2,213.8h0M216.0,215.1h0M216.5,206.5h0M216.6,207.9h0M216.6,209.2h0M216.3,210.6h0M216.6,211.9h0M216.5,213.3h0M216.4,214.6h0M216.9,206.6h0M216.8,208.0h0M217.0,209.4h0M216.9,210.8h0M216.9,212.3h0M216.8,213.7h0M216.9,215.1h0M217.4,206.5h0M217.6,207.8h0M217.4,209.2h0M217.2,210.5h0M217.5,211.9h0M217.2,213.2h0M217.5,214.5h0M217.8,206.8h0M218.2,208.2h0M217.9,209.6h0M217.9,210.9h0M218.0,212.3h0M217.8,213.7h0M217.8,215.1h0M218.5,206.4h0M218.1,207.9h0M218.1,209.4h0M218.4,210.9h0M218.3,212.4h0M218.1,213.9h0M218.6,206.3h0M218.5,207.7h0M218.6,209.1h0M218.8,210.5h0M218.8,211.8h0M218.8,213.2h0M218.9,214.6h0M219.2,206.2h0M219.4,207.6h0M219.2,209.1h0M219.2,210.5h0M219.2,212.0h0M219.2,213.5h0M219.3,214.9h0M219.5,206.1h0M219.5,207.4h0M219.7,208.7h0M219.8,210.0h0M219.8,211.3h0M219.6,212.6h0M219.5,213.9h0M219.7,215.2h0M220.2,206.4h0M220.2,207.7h0M220.3,209.1h0M219.9,210.4h0M219.9,211.8h0M220.2,213.1h0M219.8,214.5h0M220.4,206.4h0M220.3,207.8h0M220.5,209.2h0M220.7,210.6h0M220.6,212.0h0M220.6,213.4h0M220.5,214.8h0M221.1,206.8h0M220.8,208.2h0M221.0,209.6h0M220.8,211.0h0M221.0,212.4h0M221.0,213.8h0M220.8,215.2h0M221.5,206.2h0M221.5,207.6h0M221.3,209.1h0M221.3,210.5h0M221.3,212.0h0M221.5,213.4h0M221.6,214.9h0M221.7,206.3h0M222.0,207.7h0M221.9,209.0h0M221.6,210.3h0M221.6,211.7h0M221.8,213.0h0M221.8,214.3h0M222.1,215.7h0M222.3,206.2h0M222.6,207.6h0M222.2,209.1h0M222.5,210.6h0M222.4,212.1h0M222.6,213.6h0M222.4,215.1h0M222.8,206.4h0M222.9,207.7h0M222.8,209.0h0M223.1,210.3h0M222.8,211.6h0M222.9,212.9h0M222.7,214.2h0M222.8,215.5h0M223.4,206.2h0M223.2,207.6h0M223.1,208.9h0M223.4,210.3h0M223.2,211.7h0M223.1,213.0h0M223.4,214.4h0M223.4,215.8h0M223.8,207.5h0M223.8,208.9h0M223.6,210.2h0M223.9,211.6h0M223.6,213.0h0M223.7,214.4h0M223.7,215.7h0M224.3,206.2h0M224.1,207.5h0M224.4,208.9h0M224.0,210.2h0M224.1,211.5h0M224.4,212.9h0M224.2,214.2h0M224.3,215.5h0M224.6,206.4h0M224.6,207.8h0M224.5,209.1h0M224.6,210.5h0M224.7,211.9h0M224.8,213.2h0M224.6,214.6h0M224.7,216.0h0M224.8,206.7h0M225.3,208.2h0M225.2,209.7h0M225.1,211.1h0M225.1,212.6h0M224.9,214.1h0M224.8,215.6h0M225.6,206.4h0M225.4,207.9h0M225.5,209.4h0M225.8,210.9h0M225.8,212.4h0M225.5,213.9h0M225.7,215.4h0M226.0,207.0h0M226.2,208.5h0M225.9,210.0h0M226.0,211.5h0M226.0,213.0h0M225.8,214.5h0M225.9,216.0h0M226.5,207.4h0M226.5,208.9h0M226.3,210.4h0M226.6,211.9h0M226.6,213.4h0M226.6,214.9h0M226.6,216.4h0M226.7,207.1h0M226.7,208.6h0M226.7,210.1h0M227.0,211.6h0M227.1,213.2h0M226.8,214.7h0M227.0,216.2h0M227.1,207.7h0M227.1,209.2h0M227.3,210.6h0M227.3,212.1h0M227.2,213.5h0M227.2,215.0h0M227.1,216.4h0M227.8,207.4h0M227.6,208.9h0M227.8,210.4h0M227.8,211.9h0M227.9,213.4h0M227.9,214.8h0M227.8,216.3h0M228.2,207.8h0M228.4,209.2h0M228.4,210.5h0M227.8,211.8h0M228.1,213.1h0M228.1,214.4h0M228.0,215.7h0M228.6,207.7h0M228.6,209.3h0M228.4,210.8h0M228.5,212.3h0M228.5,213.8h0M228.8,215.3h0M228.4,216.8h0M229.1,207.9h0M229.2,209.3h0M229.0,210.8h0M229.2,212.2h0M229.2,213.6h0M229.4,215.1h0M229.2,216.5h0M229.6,208.6h0M229.8,210.0h0M229.6,211.4h0M229.8,212.8h0M229.7,214.2h0M229.9,215.6h0M229.9,217.0h0M230.1,208.5h0M230.1,210.0h0M230.0,211.5h0M230.1,213.0h0M229.8,214.5h0M229.9,216.0h0M230.6,208.6h0M230.6,210.0h0M230.5,211.4h0M230.4,212.8h0M230.2,214.2h0M230.5,215.6h0M230.5,217.0h0M230.9,208.3h0M230.9,209.6h0M230.6,211.0h0M231.0,212.3h0M230.9,213.7h0M230.8,215.0h0M231.0,216.4h0M231.6,208.4h0M231.5,209.8h0M231.5,211.2h0M231.5,212.7h0M231.4,214.1h0M231.4,215.6h0M231.7,217.0h0M231.8,207.6h0M231.7,208.9h0M231.4,210.3h0M231.5,211.6h0M232.0,212.9h0M232.0,214.2h0M231.7,215.6h0M231.8,216.9h0M232.5,207.7h0M232.1,209.0h0M232.1,210.3h0M231.8,211.6h0M232.5,212.9h0M232.3,214.2h0M232.5,215.5h0M232.1,216.8h0M232.7,207.3h0M233.0,208.7h0M233.0,210.2h0M232.9,211.6h0M232.6,213.0h0M232.8,214.5h0M232.9,215.9h0M232.8,217.4h0M233.0,207.3h0M233.2,208.7h0M233.4,210.1h0M233.0,211.5h0M233.2,212.9h0M233.3,214.3h0M232.9,215.7h0M233.1,217.1h0M233.4,207.9h0M233.5,209.2h0M233.5,210.5h0M233.6,211.8h0M233.6,213.1h0M233.2,214.5h0M233.8,215.8h0M233.6,217.1h0M234.1,207.6h0M233.9,209.0h0M234.0,210.3h0M234.0,211.7h0M234.1,213.0h0M233.9,214.4h0M234.1,215.8h0M234.1,217.1h0M234.5,207.2h0M234.3,208.5h0M234.5,209.9h0M234.5,211.3h0M234.5,212.7h0M234.5,214.0h0M234.8,215.4h0M234.5,216.8h0M235.1,207.4h0M234.9,208.8h0M234.8,210.2h0M234.8,211.7h0M235.0,213.1h0M235.1,214.6h0M234.7,216.0h0M234.8,217.4h0M235.2,207.5h0M235.3,208.9h0M235.5,210.2h0M235.3,211.6h0M235.3,212.9h0M235.3,214.3h0M235.2,215.6h0M235.4,217.0h0M235.9,207.4h0M236.0,208.7h0M235.9,210.1h0M236.0,211.4h0M235.8,212.8h0M236.0,214.1h0M235.7,215.5h0M236.1,216.8h0M236.2,207.4h0M236.2,208.8h0M236.2,210.3h0M236.2,211.7h0M236.2,213.1h0M236.4,214.5h0M236.4,215.9h0M236.2,217.3h0M236.6,207.8h0M236.6,209.1h0M236.8,210.5h0M236.5,211.8h0M236.5,213.2h0M236.9,214.5h0M237.0,215.9h0M236.9,217.2h0M237.3,207.8h0M237.2,209.3h0M237.0,210.7h0M237.1,212.2h0M236.9,213.6h0M237.0,215.0h0M237.5,216.5h0M237.3,217.9h0M237.7,207.8h0M237.6,209.1h0M237.7,210.5h0M237.5,211.8h0M237.6,213.1h0M237.7,214.5h0M237.5,215.8h0M237.4,217.1h0M238.1,207.6h0M238.1,209.0h0M238.1,210.5h0M238.2,211.9h0M238.0,213.4h0M238.3,214.8h0M238.4,216.3h0M238.1,217.7h0M238.6,207.0h0M238.6,208.3h0M238.5,209.6h0M238.4,210.9h0M238.4,212.3h0M238.6,213.6h0M238.7,214.9h0M238.4,216.2h0M238.5,217.5h0M238.9,207.0h0M238.9,208.4h0M238.7,209.8h0M239.0,211.1h0M238.9,212.5h0M239.3,213.9h0M239.1,215.3h0M238.9,216.7h0M239.0,218.1h0M239.5,207.7h0M239.4,209.1h0M239.2,210.5h0M239.4,211.9h0M239.4,213.3h0M239.3,214.7h0M239.7,216.1h0M239.2,217.5h0M240.0,206.8h0M240.1,208.3h0M239.7,209.7h0M239.8,211.1h0M239.9,212.6h0M239.9,214.0h0M239.8,215.4h0M239.8,216.9h0M240.1,218.3h0M240.6,207.2h0M240.6,208.6h0M240.5,210.0h0M240.2,211.4h0M240.2,212.8h0M240.2,214.1h0M240.2,215.5h0M240.3,216.9h0M240.5,218.3h0M240.7,206.8h0M240.6,208.2h0M241.0,209.6h0M240.5,211.1h0M240.8,212.5h0M240.6,214.0h0M240.6,215.4h0M240.6,216.8h0M240.9,218.3h0M241.1,206.8h0M241.1,208.3h0M241.3,209.7h0M241.3,211.2h0M241.2,212.7h0M240.9,214.2h0M241.5,215.7h0M241.3,217.1h0M241.8,207.0h0M241.6,208.4h0M241.7,209.8h0M241.7,211.3h0M241.9,212.7h0M241.6,214.1h0M241.6,215.6h0M241.9,217.0h0M241.7,218.4h0M242.3,206.9h0M242.0,208.4h0M242.2,209.9h0M242.4,211.3h0M242.2,212.8h0M242.0,214.2h0M242.0,215.7h0M242.2,217.2h0M242.0,218.6h0M242.4,207.8h0M242.7,209.1h0M242.4,210.4h0M242.8,211.7h0M242.5,213.1h0M242.6,214.4h0M242.7,215.7h0M242.6,217.0h0M242.7,218.3h0M243.0,207.6h0M242.8,209.0h0M242.9,210.4h0M243.2,211.8h0M243.0,213.2h0M242.9,214.6h0M242.9,216.0h0M243.0,217.4h0M243.5,207.4h0M243.3,208.7h0M243.5,210.0h0M243.4,211.3h0M243.6,212.6h0M243.6,213.9h0M243.5,215.2h0M243.5,216.5h0M243.5,217.9h0M244.0,208.1h0M244.0,209.5h0M244.2,211.0h0M243.7,212.5h0M244.0,213.9h0M243.8,215.4h0M244.1,216.8h0M243.9,218.3h0M244.4,207.7h0M244.5,209.0h0M244.6,210.3h0M244.2,211.6h0M244.3,212.9h0M245.0,214.3h0M244.5,215.6h0M244.4,216.9h0M244.5,218.2h0M244.9,209.1h0M244.6,210.6h0M245.0,212.1h0M244.7,213.5h0M244.7,215.0h0M244.9,216.5h0M244.9,217.9h0M245.1,208.2h0M245.1,209.5h0M245.4,210.9h0M245.5,212.2h0M245.4,213.5h0M245.4,214.9h0M245.2,216.2h0M245.3,217.5h0M245.2,218.9h0M245.8,209.0h0M245.7,210.4h0M245.5,211.8h0M246.0,213.1h0M245.7,214.5h0M245.6,215.9h0M245.8,217.2h0M245.6,218.6h0M246.3,208.2h0M246.2,209.7h0M246.0,211.1h0M246.4,212.6h0M246.2,214.0h0M246.0,215.5h0M246.2,216.9h0M246.3,218.4h0M246.8,209.1h0M246.6,210.4h0M246.7,211.8h0M246.6,213.1h0M246.6,214.5h0M246.7,215.8h0M246.5,217.2h0M246.3,218.5h0M247.1,208.1h0M247.2,209.4h0M247.1,210.8h0M247.3,212.1h0M247.1,213.5h0M247.1,214.8h0M247.2,216.2h0M247.2,217.5h0M247.1,218.8h0M247.5,208.1h0M247.6,209.4h0M247.7,210.8h0M247.5,212.1h0M247.7,213.4h0M247.8,214.7h0M247.9,216.1h0M247.6,217.4h0M247.7,218.7h0M248.1,208.3h0M248.1,209.6h0M248.1,210.9h0M248.0,212.2h0M248.0,213.5h0M248.0,214.8h0M248.1,216.1h0M248.2,217.4h0M248.1,218.7h0M248.3,208.3h0M248.4,209.8h0M248.5,211.2h0M248.5,212.6h0M248.3,214.1h0M248.6,215.5h0M248.4,217.0h0M248.3,218.4h0M248.9,208.8h0M248.8,210.2h0M248.9,211.6h0M249.0,213.0h0M248.8,214.4h0M248.9,215.8h0M248.9,217.2h0M248.8,218.6h0M249.3,208.7h0M249.3,210.0h0M249.3,211.3h0M249.4,212.7h0M249.3,214.0h0M249.5,215.3h0M249.0,216.6h0M249.0,218.0h0M249.3,219.3h0M249.7,209.3h0M249.9,210.8h0M249.9,212.2h0M250.0,213.7h0M249.9,215.1h0M250.0,216.6h0M249.9,218.0h0M250.0,219.5h0M250.1,209.0h0M250.1,210.5h0M250.3,211.9h0M249.9,213.4h0M250.3,214.8h0M250.1,216.3h0M250.4,217.8h0M250.3,219.2h0M250.4,209.4h0M250.7,210.8h0M250.8,212.3h0M250.4,213.8h0M250.8,215.2h0M250.7,216.7h0M250.7,218.1h0M250.5,219.6h0M251.1,209.5h0M251.0,210.9h0M251.3,212.3h0M251.3,213.7h0M251.2,215.1h0M251.3,216.5h0M251.1,217.9h0M251.2,219.3h0M252.0,209.2h0M251.7,210.7h0M251.5,212.2h0M251.7,213.6h0M251.4,215.1h0M251.7,216.5h0M251.7,218.0h0M251.5,219.5h0M252.1,209.0h0M252.0,210.4h0M252.3,211.8h0M252.2,213.3h0M252.0,214.7h0M251.8,216.2h0M252.4,217.6h0M252.3,219.0h0M252.5,208.9h0M252.4,210.2h0M252.8,211.5h0M252.5,212.8h0M252.3,214.1h0M252.4,215.4h0M252.1,216.7h0M252.6,218.0h0M252.6,219.3h0M252.8,209.4h0M253.0,210.9h0M253.1,212.3h0M253.1,213.8h0M252.9,215.2h0M253.1,216.7h0M253.0,218.2h0M253.4,209.2h0M253.3,210.7h0M253.4,212.1h0M253.3,213.6h0M253.4,215.0h0M253.5,216.5h0M253.5,217.9h0M253.6,219.4h0M253.7,209.2h0M253.9,210.6h0M254.0,212.0h0M253.7,213.4h0M253.7,214.8h0M253.7,216.2h0M253.7,217.6h0M253.8,219.0h0M254.1,209.1h0M254.3,210.5h0M254.2,211.9h0M254.2,213.4h0M254.5,214.8h0M254.3,216.2h0M254.4,217.7h0M254.3,219.1h0M254.7,209.1h0M254.5,210.5h0M254.9,211.9h0M254.9,213.3h0M254.8,214.7h0M254.8,216.1h0M254.8,217.5h0M254.8,218.9h0M255.3,209.3h0M255.1,210.7h0M255.1,212.1h0M255.5,213.6h0M255.3,215.0h0M255.2,216.4h0M255.1,217.9h0M254.8,219.3h0M255.8,209.5h0M255.3,210.9h0M255.5,212.3h0M255.9,213.6h0M255.8,215.0h0M255.7,216.4h0M255.8,217.8h0M255.6,219.1h0" stroke="#0000ff" stroke-width="3.5" stroke-linecap="round" fill="none"/>
<path d="M126.0,248.2h0M136.1,248.9h0M141.9,249.6h0M146.1,250.2h0M149.3,250.0h0M152.0,251.0h0M154.2,250.1h0M156.2,250.4h0M157.9,251.6h0M159.4,250.5h0M160.8,250.8h0M162.0,249.9h0M162.2,250.4h0M162.5,250.1h0M162.7,250.3h0M162.9,251.1h0M163.1,251.9h0M163.4,251.2h0M163.6,251.8h0M163.8,250.2h0M164.0,251.7h0M164.3,251.0h0M164.5,251.6h0M164.7,250.2h0M164.9,250.4h0M165.2,251.5h0M165.4,250.9h0M165.6,250.3h0M165.8,249.8h0M166.1,250.0h0M166.3,250.4h0M166.5,250.4h0M166.7,249.5h0M167.0,249.4h0M167.2,250.0h0M167.4,248.6h0M167.6,250.2h0M167.9,249.3h0M168.1,249.2h0M168.3,247.2h0M168.5,247.8h0M168.8,248.0h0M169.0,248.4h0M169.2,247.8h0M169.4,248.9h0M169.7,248.5h0M169.9,248.2h0M170.1,246.7h0M170.3,249.3h0M170.6,248.1h0M170.8,248.8h0M171.0,248.0h0M171.2,248.5h0M171.5,249.1h0M171.7,248.8h0M171.9,249.4h0M172.1,248.6h0M172.4,250.3h0M172.6,247.4h0M172.8,248.5h0M173.0,249.7h0M173.3,248.8h0M173.5,248.7h0M173.7,247.7h0M173.9,249.9h0M174.2,247.6h0M174.4,249.4h0M174.6,249.2h0M174.8,249.7h0M175.1,250.2h0M175.3,248.6h0M175.5,248.5h0M175.7,248.9h0M176.0,247.8h0M176.2,249.7h0M176.4,248.8h0M176.6,249.3h0M176.9,248.3h0M177.1,249.2h0M177.3,248.7h0M177.5,249.1h0M177.8,248.4h0M178.0,250.0h0M178.2,248.7h0M178.4,247.3h0M178.7,249.7h0M178.9,249.0h0M179.1,248.6h0M179.3,251.1h0M179.6,249.2h0M179.8,248.2h0M180.0,248.8h0M180.2,249.6h0M180.5,249.1h0M180.7,250.2h0M180.9,250.1h0M181.1,248.7h0M181.4,249.3h0M181.6,249.7h0M181.8,248.9h0M182.0,248.9h0M182.3,249.9h0M182.5,249.6h0M182.7,248.2h0M182.9,248.8h0M183.2,248.9h0M183.4,249.1h0M183.6,248.7h0M183.8,250.2h0M184.1,248.5h0M184.3,248.4h0M184.5,249.4h0M184.7,247.5h0M185.0,248.4h0M185.2,249.7h0M185.4,248.2h0M185.6,248.6h0M185.9,250.0h0M186.1,249.6h0M186.3,249.3h0M186.5,249.4h0M186.8,248.7h0M187.0,249.4h0M187.2,249.0h0M187.4,251.1h0M187.7,249.6h0M187.9,248.9h0M188.1,249.2h0M188.3,249.2h0M188.6,248.2h0M188.8,248.6h0M189.0,250.3h0M189.2,248.1h0M189.5,248.7h0M189.7,250.0h0M189.9,250.3h0M190.1,248.4h0M190.4,250.3h0M190.6,248.9h0M190.8,250.4h0M191.0,249.5h0M191.3,248.9h0M191.5,249.7h0M191.7,249.5h0M191.9,248.5h0M192.2,250.7h0M192.4,248.8h0M192.6,249.9h0M192.8,248.7h0M193.1,247.7h0M193.3,248.2h0M193.5,248.9h0M193.7,249.5h0M194.0,250.3h0M194.2,249.1h0M194.4,248.8h0M194.6,248.0h0M194.9,248.9h0M195.1,249.2h0M195.3,247.3h0M195.5,249.9h0M195.8,249.8h0M196.0,250.6h0M196.2,245.7h0M196.0,247.4h0M196.1,249.0h0M196.1,250.6h0M196.9,245.4h0M196.6,246.8h0M196.5,248.2h0M196.8,249.6h0M196.7,251.0h0M197.1,245.6h0M197.3,247.1h0M197.0,248.6h0M197.2,250.2h0M197.2,251.7h0M197.4,245.2h0M197.5,246.6h0M197.6,248.0h0M197.4,249.4h0M197.5,250.8h0M197.9,246.8h0M197.9,248.1h0M198.2,249.5h0M197.6,250.8h0M198.4,245.4h0M198.6,246.8h0M198.3,248.2h0M198.5,249.7h0M198.5,251.1h0M198.9,245.2h0M199.1,246.5h0M198.9,247.9h0M198.8,249.3h0M198.9,250.6h0M199.1,245.4h0M199.2,247.3h0M199.4,249.1h0M200.3,245.7h0M200.0,247.1h0M199.8,248.6h0M199.7,250.1h0M200.5,246.0h0M200.4,247.9h0M200.5,249.8h0M200.5,245.7h0M200.7,247.1h0M200.9,248.5h0M200.8,249.9h0M200.4,251.3h0M201.2,245.5h0M201.1,246.8h0M201.1,248.2h0M201.1,249.5h0M201.3,250.9h0M201.7,245.3h0M201.4,246.9h0M201.6,248.4h0M201.9,249.9h0M201.5,251.4h0M201.9,245.2h0M202.1,246.7h0M202.2,248.2h0M202.2,249.8h0M202.3,245.3h0M202.6,246.8h0M202.6,248.3h0M202.5,249.8h0M202.5,251.3h0M202.9,245.8h0M202.8,247.2h0M203.0,248.7h0M202.9,250.1h0M203.0,251.5h0M203.4,246.1h0M203.8,247.5h0M203.2,248.9h0M203.5,250.3h0M204.2,245.8h0M203.8,247.3h0M204.0,248.8h0M203.9,250.3h0M203.8,251.8h0M204.4,245.7h0M204.4,247.4h0M204.2,249.2h0M204.6,245.5h0M204.4,247.0h0M204.9,248.5h0M204.9,250.0h0M205.0,245.4h0M205.3,247.0h0M205.2,248.6h0M205.3,250.1h0M205.4,245.1h0M205.7,246.5h0M205.4,247.9h0M205.7,249.2h0M206.2,245.7h0M206.1,247.5h0M206.2,249.3h0M206.6,245.6h0M206.9,247.2h0M206.7,248.9h0M206.7,250.5h0M206.9,246.1h0M207.0,247.7h0M207.1,249.2h0M207.2,250.8h0M207.5,245.5h0M207.7,246.8h0M207.4,248.1h0M207.5,249.4h0M207.7,250.7h0M208.1,245.3h0M208.2,246.8h0M208.1,248.3h0M207.7,249.8h0M207.9,251.3h0M208.4,245.3h0M208.7,246.8h0M208.6,248.3h0M208.2,249.8h0M208.3,251.3h0M208.8,246.6h0M208.8,248.0h0M208.6,249.4h0M208.8,250.7h0M208.9,252.1h0M209.2,245.5h0M209.6,247.0h0M209.2,248.6h0M209.1,250.1h0M209.7,245.6h0M209.7,247.1h0M209.5,248.6h0M209.7,250.1h0M210.5,245.2h0M210.4,246.5h0M209.9,247.9h0M210.1,249.2h0M210.9,245.7h0M210.3,247.2h0M210.4,248.7h0M210.5,250.2h0M210.7,251.7h0M211.1,246.0h0M211.2,247.7h0M210.9,249.4h0M211.1,251.1h0M211.7,245.2h0M211.5,246.8h0M211.7,248.4h0M211.4,249.9h0M211.8,251.5h0M212.0,246.2h0M212.0,247.7h0M211.8,249.3h0M212.1,250.8h0M212.1,252.4h0M212.6,245.8h0M212.4,247.2h0M212.3,248.7h0M212.7,250.1h0M212.3,251.6h0M212.5,253.0h0M212.6,254.5h0M212.8,245.6h0M212.9,247.0h0M212.9,248.4h0M213.0,249.8h0M213.0,251.2h0M212.9,252.6h0M212.9,254.0h0M213.0,245.8h0M213.7,247.2h0M213.3,248.5h0M213.5,249.9h0M213.1,251.3h0M213.3,252.6h0M213.1,254.0h0M213.5,255.4h0M213.5,256.7h0M213.3,258.1h0M213.7,249.0h0M213.7,250.4h0M213.9,251.8h0M213.8,253.1h0M213.6,254.5h0M213.8,255.9h0M213.9,257.3h0M214.0,258.6h0M214.2,252.1h0M214.2,253.4h0M214.3,254.7h0M214.2,256.0h0M214.2,257.3h0M214.2,258.6h0M214.1,259.9h0M214.6,249.0h0M214.7,250.4h0M214.7,251.9h0M214.8,253.3h0M215.0,254.7h0M214.5,256.2h0M214.7,257.6h0M214.4,259.1h0M214.7,260.5h0M215.0,249.0h0M214.9,250.4h0M215.2,251.8h0M215.4,253.2h0M215.0,254.6h0M215.4,256.0h0M215.1,257.4h0M214.9,258.8h0M215.2,260.2h0M215.3,261.5h0M215.5,251.6h0M215.7,253.0h0M215.7,254.4h0M215.4,255.9h0M215.3,257.3h0M215.3,258.7h0M215.5,260.1h0M215.6,261.5h0M215.3,262.9h0M216.1,248.1h0M216.1,249.5h0M216.2,250.8h0M215.8,252.2h0M216.1,253.6h0M215.8,255.0h0M216.2,256.3h0M215.9,257.7h0M216.1,259.1h0M215.9,260.4h0M216.1,261.8h0M215.8,263.2h0M216.1,264.6h0M216.5,251.5h0M216.6,253.0h0M216.6,254.4h0M216.8,255.9h0M216.4,257.4h0M216.4,258.8h0M216.4,260.3h0M216.6,261.7h0M216.5,263.2h0M217.0,249.4h0M216.6,250.7h0M217.1,252.0h0M216.8,253.3h0M216.9,254.6h0M217.0,256.0h0M216.9,257.3h0M217.5,246.2h0M217.6,247.5h0M217.3,248.9h0M217.4,250.2h0M217.5,251.5h0M217.6,252.8h0M217.4,254.2h0M217.2,255.5h0M217.1,256.8h0M217.6,258.2h0M217.2,259.5h0M217.9,245.4h0M217.8,246.7h0M217.9,248.0h0M217.9,249.3h0M218.0,250.6h0M217.9,251.9h0M217.7,253.3h0M217.5,254.6h0M217.9,255.9h0M217.7,257.2h0M218.1,258.5h0M217.6,259.8h0M217.9,261.1h0M217.7,262.4h0M218.3,245.7h0M218.4,247.1h0M218.2,248.4h0M218.2,249.7h0M218.2,251.1h0M218.6,252.4h0M218.3,253.7h0M218.4,255.1h0M218.5,256.4h0M218.3,257.8h0M218.8,245.2h0M218.7,246.5h0M218.9,247.8h0M218.5,249.1h0M218.8,250.4h0M218.5,251.7h0M218.6,253.0h0M218.7,254.3h0M219.0,255.6h0M218.6,256.9h0M218.6,258.2h0M219.3,246.0h0M219.5,247.4h0M219.2,248.7h0M218.9,250.1h0M219.1,251.5h0M219.0,252.8h0M219.5,254.2h0M219.0,255.6h0M219.2,256.9h0M219.1,258.3h0M219.5,245.4h0M219.5,246.7h0M219.5,248.1h0M219.5,249.4h0M219.5,250.7h0M219.7,252.0h0M219.6,253.3h0M219.7,254.6h0M219.6,256.0h0M219.9,257.3h0M220.1,251.1h0M220.2,252.4h0M220.1,253.7h0M220.0,255.1h0M220.2,256.4h0M220.5,248.7h0M220.3,250.2h0M220.4,251.6h0M220.4,253.0h0M220.6,254.4h0M220.7,255.9h0M220.4,257.3h0M220.5,258.7h0M220.4,260.2h0M220.3,261.6h0M220.5,263.0h0M220.9,250.6h0M220.6,251.9h0M221.1,253.3h0M221.2,254.6h0M221.1,255.9h0M221.1,257.3h0M221.2,258.6h0M221.4,260.0h0M221.0,261.3h0M221.2,262.6h0M221.1,264.0h0M221.3,249.6h0M221.5,251.0h0M221.4,252.4h0M221.3,253.8h0M221.3,255.2h0M221.3,256.5h0M221.7,257.9h0M221.4,259.3h0M221.5,260.7h0M221.3,262.1h0M221.3,263.4h0M222.2,250.2h0M222.2,251.5h0M222.0,252.9h0M222.0,254.2h0M221.9,255.5h0M221.8,256.8h0M222.2,258.1h0M221.7,259.4h0M221.9,260.7h0M221.6,262.1h0M221.7,263.4h0M222.3,250.3h0M222.2,251.7h0M222.3,253.1h0M222.3,254.5h0M222.5,255.8h0M222.6,257.2h0M222.4,258.6h0M222.3,259.9h0M222.2,261.3h0M222.4,262.7h0M222.3,264.1h0M222.7,250.0h0M222.7,251.4h0M222.7,252.7h0M222.9,254.1h0M222.6,255.4h0M222.8,256.8h0M222.9,258.1h0M223.1,259.5h0M222.9,260.9h0M222.8,262.2h0M222.7,263.6h0M222.9,264.9h0M223.2,250.6h0M223.0,252.0h0M223.1,253.4h0M223.4,254.8h0M223.5,256.2h0M223.4,257.7h0M223.2,259.1h0M223.1,260.5h0M223.3,261.9h0M223.3,263.3h0M223.8,249.3h0M223.8,250.6h0M223.9,251.9h0M223.8,253.2h0M223.5,254.6h0M223.5,255.9h0M223.9,257.2h0M223.8,258.5h0M224.3,250.9h0M224.1,252.4h0M224.2,253.8h0M223.7,255.2h0M224.0,256.7h0M224.3,258.1h0M224.3,259.5h0M223.8,261.0h0M224.6,251.0h0M224.4,252.5h0M224.6,254.1h0M224.7,255.6h0M224.4,257.2h0M224.7,251.1h0M225.1,252.4h0M225.2,253.7h0M225.0,255.1h0M225.0,256.4h0M225.0,257.7h0M224.9,259.0h0M225.6,250.5h0M225.7,251.8h0M225.5,253.2h0M225.6,254.5h0M225.8,255.9h0M225.7,257.2h0M225.5,258.5h0M225.4,259.9h0M226.0,250.5h0M226.0,251.9h0M226.0,253.2h0M225.9,254.6h0M226.5,248.6h0M226.5,249.9h0M226.4,251.2h0M226.4,252.5h0M226.4,253.8h0M226.3,255.1h0M226.2,256.4h0M227.0,245.5h0M226.7,246.9h0M226.7,248.2h0M227.1,249.6h0M227.0,250.9h0M226.8,252.3h0M226.7,253.6h0M226.8,255.0h0M226.8,256.3h0M227.4,245.3h0M227.2,246.7h0M227.0,248.1h0M227.1,249.5h0M227.3,250.8h0M227.1,252.2h0M226.9,253.6h0M227.5,255.0h0M227.4,256.4h0M227.2,257.8h0M227.2,259.2h0M227.4,260.5h0M227.5,261.9h0M227.2,263.3h0M227.8,245.4h0M227.6,246.7h0M227.4,248.1h0M227.7,249.5h0M227.7,250.9h0M227.8,252.3h0M227.6,253.7h0M227.9,255.1h0M227.7,256.5h0M228.0,257.9h0M227.7,259.3h0M228.0,260.6h0M227.7,262.0h0M227.8,263.4h0M228.0,245.7h0M228.5,247.1h0M227.9,248.5h0M228.1,249.9h0M228.3,251.3h0M228.4,252.7h0M228.1,254.1h0M228.2,255.5h0M228.0,256.9h0M228.1,258.2h0M228.3,259.6h0M228.2,261.0h0M228.2,262.4h0M228.7,245.4h0M228.6,246.7h0M228.5,248.1h0M228.7,249.4h0M228.5,250.8h0M228.8,252.1h0M229.0,253.4h0M228.9,254.8h0M229.0,256.1h0M228.5,257.5h0M228.7,258.8h0M228.5,260.2h0M228.5,261.5h0M228.4,262.9h0M228.4,264.2h0M229.3,245.7h0M229.2,247.0h0M229.0,248.4h0M229.1,249.8h0M229.2,251.1h0M229.3,252.5h0M229.0,253.9h0M229.0,255.2h0M229.0,256.6h0M229.3,257.9h0M229.2,259.3h0M229.3,245.3h0M229.5,246.8h0M229.5,248.2h0M229.5,249.6h0M229.6,251.0h0M229.6,252.5h0M230.0,253.9h0M229.6,255.3h0M229.7,256.7h0M229.4,258.2h0M229.8,246.3h0M230.0,247.7h0M230.2,249.1h0M230.0,250.6h0M229.6,252.0h0M230.2,253.4h0M230.0,254.8h0M230.1,256.3h0M229.8,257.7h0M230.1,259.1h0M230.2,260.5h0M230.4,245.6h0M230.3,247.0h0M230.4,248.3h0M230.3,249.7h0M230.6,251.1h0M230.4,252.4h0M230.3,253.8h0M230.7,255.2h0M230.5,256.5h0M230.9,245.8h0M230.8,247.2h0M230.9,248.7h0M230.9,250.1h0M230.9,251.5h0M231.0,252.9h0M230.6,254.3h0M230.9,255.8h0M230.8,257.2h0M230.9,258.6h0M231.5,245.4h0M231.3,246.8h0M231.5,248.2h0M231.5,249.6h0M231.3,251.0h0M231.2,252.4h0M231.4,253.7h0M231.5,255.1h0M231.4,256.5h0M231.7,245.9h0M231.9,247.4h0M231.8,248.8h0M231.9,250.3h0M231.8,251.7h0M232.1,253.2h0M231.8,254.7h0M231.9,256.1h0M232.5,251.2h0M232.2,252.7h0M232.3,254.2h0M232.5,255.7h0M232.3,257.3h0M232.2,258.8h0M232.9,250.2h0M232.8,251.6h0M232.7,253.0h0M232.6,254.4h0M232.5,255.8h0M233.1,257.2h0M232.6,258.6h0M232.7,260.0h0M232.6,261.4h0M232.7,262.8h0M232.6,264.2h0M233.2,249.3h0M233.1,250.7h0M233.3,252.1h0M233.0,253.5h0M233.2,254.9h0M233.0,256.3h0M232.9,257.7h0M233.0,259.1h0M233.0,260.5h0M233.0,261.9h0M233.1,263.3h0M233.3,264.7h0M233.0,266.1h0M233.5,249.3h0M233.7,250.6h0M233.7,251.9h0M233.5,253.2h0M233.6,254.5h0M233.6,255.8h0M233.4,257.2h0M233.6,258.5h0M233.6,259.8h0M233.9,261.1h0M233.4,262.4h0M233.5,263.7h0M233.6,265.0h0M234.0,250.0h0M234.0,251.3h0M234.1,252.7h0M233.8,254.0h0M234.1,255.3h0M233.7,256.6h0M234.3,258.0h0M234.2,259.3h0M234.0,260.6h0M234.2,261.9h0M234.0,263.3h0M234.1,264.6h0M234.6,250.0h0M234.5,251.4h0M234.4,252.8h0M234.4,254.2h0M234.2,255.6h0M234.7,257.0h0M234.6,258.4h0M234.3,259.8h0M234.6,261.2h0M234.5,262.6h0M234.2,264.0h0M234.4,265.4h0M235.1,251.1h0M235.0,252.4h0M235.1,253.7h0M234.8,255.0h0M235.0,256.3h0M235.1,257.6h0M234.8,258.9h0M235.0,260.2h0M235.2,261.5h0M235.2,262.8h0M235.2,264.1h0M234.8,265.4h0M234.9,266.7h0M235.2,249.2h0M235.2,250.5h0M235.4,251.8h0M235.5,253.2h0M235.3,254.5h0M235.3,255.8h0M235.4,257.1h0M235.6,258.5h0M235.2,259.8h0M235.4,261.1h0M235.4,262.4h0M235.5,263.8h0M235.6,265.1h0M235.5,266.4h0M236.0,245.3h0M235.9,246.7h0M235.9,248.0h0M235.7,249.3h0M235.9,250.7h0M235.7,252.0h0M235.7,253.4h0M235.8,254.7h0M235.6,256.0h0M235.7,257.4h0M235.8,258.7h0M235.9,260.0h0M235.8,261.4h0M235.9,262.7h0M236.1,264.1h0M236.0,265.4h0M235.7,266.7h0M236.2,246.3h0M236.0,247.6h0M236.0,248.9h0M236.0,250.3h0M236.2,251.6h0M236.5,252.9h0M236.5,254.2h0M236.1,255.5h0M236.2,256.8h0M236.1,258.1h0M236.0,259.4h0M236.3,260.7h0M236.3,262.0h0M236.2,263.4h0M236.4,264.7h0M236.9,245.4h0M236.7,246.8h0M236.8,248.2h0M236.8,249.6h0M236.5,251.0h0M236.6,252.4h0M236.7,253.8h0M236.7,255.2h0M236.8,256.6h0M237.2,245.7h0M237.1,247.2h0M237.4,248.6h0M237.3,250.0h0M237.3,251.5h0M237.3,252.9h0M237.1,254.3h0M237.5,255.8h0M237.1,257.2h0M237.7,245.3h0M237.5,246.7h0M237.6,248.1h0M237.6,249.5h0M237.8,250.9h0M237.5,252.3h0M237.7,253.7h0M237.7,255.1h0M237.7,256.5h0M237.6,257.9h0M238.2,245.2h0M238.0,246.6h0M238.2,248.0h0M238.2,249.4h0M238.0,250.8h0M238.2,252.2h0M238.0,253.5h0M238.5,254.9h0M238.0,256.3h0M238.0,257.7h0M238.6,245.5h0M238.5,246.9h0M238.8,248.3h0M238.7,249.7h0M238.5,251.0h0M238.5,252.4h0M238.3,253.8h0M238.6,255.2h0M238.8,256.6h0M238.4,258.0h0M238.3,259.4h0M238.8,245.2h0M238.9,246.6h0M239.0,247.9h0M239.2,249.2h0M239.1,250.5h0M238.7,251.8h0M238.7,253.1h0M239.0,254.4h0M238.7,255.7h0M239.0,257.1h0M238.9,258.4h0M239.1,259.7h0M239.5,245.9h0M239.3,247.3h0M239.4,248.7h0M239.3,250.0h0M239.4,251.4h0M239.5,252.7h0M239.6,254.1h0M239.7,255.4h0M239.4,256.8h0M239.3,258.1h0M239.7,245.8h0M240.0,247.2h0M240.2,248.5h0M239.8,249.9h0M239.9,251.3h0M239.7,252.7h0M239.9,254.1h0M239.9,255.5h0M239.8,256.8h0M239.9,258.2h0M239.9,259.6h0M240.0,261.0h0M239.9,262.4h0M239.7,263.8h0M240.2,245.2h0M240.5,246.5h0M240.4,247.9h0M240.3,249.3h0M240.3,250.7h0M240.3,252.0h0M240.2,253.4h0M240.5,254.8h0M240.5,256.1h0M240.3,257.5h0M240.3,258.9h0M240.3,260.3h0M240.4,261.6h0M240.6,263.0h0M240.2,264.4h0M240.4,265.7h0M240.3,267.1h0M240.7,245.5h0M240.5,246.8h0M240.8,248.1h0M240.6,249.4h0M241.0,250.7h0M240.7,252.0h0M240.8,253.3h0M240.8,254.6h0M240.8,256.0h0M240.7,257.3h0M240.8,258.6h0M240.9,259.9h0M240.8,261.2h0M241.1,262.5h0M240.9,263.8h0M240.4,265.1h0M240.9,266.4h0M240.5,267.7h0M241.4,245.3h0M241.1,246.7h0M241.1,248.1h0M241.3,249.4h0M241.5,250.8h0M241.1,252.2h0M241.4,253.5h0M241.3,254.9h0M241.2,256.3h0M241.2,257.6h0M241.5,259.0h0M241.0,260.4h0M241.1,261.7h0M241.4,263.1h0M241.4,264.5h0M241.1,265.8h0M241.1,267.2h0M241.1,268.6h0M241.9,245.5h0M241.8,246.9h0M241.7,248.2h0M241.7,249.6h0M241.8,251.0h0M241.8,252.3h0M241.7,253.7h0M241.7,255.1h0M241.8,256.4h0M241.7,257.8h0M241.8,259.2h0M241.7,260.5h0M241.6,261.9h0M241.7,263.3h0M241.9,264.6h0M241.9,266.0h0M242.1,246.2h0M242.1,247.6h0M242.1,249.0h0M242.1,250.4h0M242.1,251.7h0M242.1,253.1h0M242.2,254.5h0M242.0,255.9h0M242.0,257.3h0M242.0,258.7h0M242.0,260.0h0M242.2,261.4h0M242.0,262.8h0M242.1,264.2h0M242.2,265.6h0M242.3,267.0h0M242.6,245.1h0M242.6,246.4h0M242.7,247.8h0M242.4,249.1h0M242.7,250.4h0M242.8,251.8h0M242.6,253.1h0M242.6,254.4h0M242.9,255.7h0M242.6,257.1h0M242.8,258.4h0M242.2,259.7h0M242.6,261.0h0M242.5,262.4h0M242.7,263.7h0M242.8,265.0h0M242.6,266.4h0M242.6,267.7h0M243.2,247.1h0M243.1,248.4h0M243.0,249.8h0M243.1,251.2h0M243.2,252.5h0M243.1,253.9h0M243.4,255.3h0M243.0,256.6h0M242.8,258.0h0M243.1,259.3h0M243.2,260.7h0M243.0,262.1h0M243.0,263.4h0M242.9,264.8h0M242.9,266.2h0M242.9,267.5h0M243.6,246.5h0M243.6,247.9h0M243.4,249.3h0M243.4,250.7h0M243.2,252.0h0M243.3,253.4h0M243.6,254.8h0M243.9,256.2h0M243.3,257.5h0M243.4,258.9h0M243.6,260.3h0M243.4,261.6h0M243.6,263.0h0M243.4,264.4h0M243.4,265.8h0M243.6,267.1h0M244.1,245.3h0M243.9,246.7h0M243.9,248.0h0M243.8,249.4h0M244.0,250.8h0M243.8,252.1h0M244.0,253.5h0M244.1,254.9h0M243.9,256.2h0M244.1,257.6h0M243.7,259.0h0M244.0,260.3h0M244.0,261.7h0M244.2,263.1h0M243.9,264.4h0M244.1,265.8h0M244.3,245.2h0M244.3,246.5h0M244.5,247.8h0M244.3,249.1h0M244.4,250.4h0M244.5,251.7h0M244.6,253.0h0M244.5,254.3h0M244.6,255.6h0M244.2,256.9h0M244.3,258.3h0M244.4,259.6h0M244.6,260.9h0M244.5,262.2h0M244.3,263.5h0M244.4,264.8h0M244.1,266.1h0M244.9,245.7h0M245.0,247.0h0M245.0,248.3h0M244.6,249.6h0M244.9,251.0h0M244.8,252.3h0M244.8,253.6h0M245.1,254.9h0M244.9,256.2h0M244.6,257.6h0M244.7,258.9h0M245.0,260.2h0M244.9,261.5h0M244.7,262.9h0M244.6,264.2h0M244.8,265.5h0M245.2,245.4h0M245.4,246.7h0M245.5,248.1h0M245.1,249.4h0M245.2,250.7h0M245.5,252.0h0M245.2,253.4h0M245.3,254.7h0M245.4,256.0h0M245.2,257.3h0M245.2,258.6h0M245.0,260.0h0M245.4,261.3h0M245.2,262.6h0M245.2,263.9h0M244.9,265.3h0M245.4,266.6h0M245.4,267.9h0M245.4,245.7h0M245.7,247.0h0M245.5,248.3h0M246.1,249.7h0M245.3,251.0h0M245.6,252.3h0M245.6,253.7h0M245.9,255.0h0M245.9,256.3h0M245.8,257.7h0M245.7,259.0h0M246.1,260.3h0M245.6,261.7h0M245.8,263.0h0M246.0,264.3h0M245.5,265.7h0M245.6,267.0h0M245.9,268.3h0M246.5,245.4h0M246.1,246.7h0M246.3,248.1h0M246.2,249.4h0M246.1,250.7h0M246.4,252.1h0M246.3,253.4h0M246.4,254.8h0M246.2,256.1h0M246.2,257.4h0M246.6,245.2h0M246.8,246.7h0M246.5,248.1h0M246.6,249.6h0M246.6,251.0h0M246.6,252.5h0M246.4,253.9h0M246.5,255.4h0M246.8,256.9h0M246.9,245.4h0M247.2,246.7h0M247.1,248.0h0M246.9,249.4h0M247.0,250.7h0M247.0,252.0h0M247.3,253.3h0M247.2,254.6h0M247.0,255.9h0M246.9,257.3h0M246.8,258.6h0M247.1,259.9h0M247.6,246.1h0M247.7,247.5h0M247.5,248.9h0M247.6,250.2h0M247.5,251.6h0M247.7,253.0h0M247.7,254.3h0M247.8,255.7h0M247.7,257.1h0M248.2,245.7h0M247.9,247.1h0M248.2,248.5h0M248.0,249.9h0M248.0,251.3h0M248.0,252.7h0M247.8,254.1h0M247.7,255.5h0M247.9,256.9h0M247.8,258.3h0M248.3,245.2h0M248.5,246.6h0M248.1,247.9h0M248.4,249.3h0M248.2,250.7h0M248.1,252.1h0M248.6,253.5h0M249.1,245.8h0M249.1,247.1h0M248.9,248.5h0M249.0,249.8h0M248.9,251.2h0M248.8,252.5h0M249.0,253.9h0M248.8,255.2h0M249.0,256.6h0M249.4,245.4h0M249.5,246.8h0M249.4,248.1h0M249.2,249.5h0M249.4,250.9h0M249.2,252.3h0M249.2,253.7h0M249.3,255.1h0M249.4,256.4h0M250.0,245.5h0M249.9,246.8h0M249.7,248.2h0M249.9,249.6h0M249.7,250.9h0M249.8,252.3h0M249.9,253.6h0M249.8,255.0h0M249.6,256.3h0M249.8,257.7h0M249.7,259.0h0M249.8,260.4h0M249.7,261.8h0M249.6,263.1h0M249.5,264.5h0M249.9,265.8h0M249.9,267.2h0M249.8,268.5h0M250.3,245.2h0M250.2,246.6h0M250.4,247.9h0M250.2,249.3h0M250.3,250.7h0M250.3,252.0h0M250.3,253.4h0M250.2,254.8h0M250.2,256.2h0M250.3,257.5h0M250.4,258.9h0M250.1,260.3h0M250.2,261.6h0M250.1,263.0h0M250.4,264.4h0M250.2,265.8h0M250.4,267.1h0M250.1,268.5h0M250.4,269.9h0M250.8,245.5h0M250.6,246.8h0M250.6,248.1h0M250.8,249.4h0M250.7,250.8h0M250.9,252.1h0M251.1,253.4h0M250.6,254.7h0M250.6,256.0h0M250.5,257.3h0M250.5,258.6h0M250.8,259.9h0M250.7,261.2h0M250.7,262.5h0M250.8,263.8h0M250.6,265.1h0M250.4,266.4h0M250.8,267.7h0M251.1,245.2h0M251.3,246.6h0M251.1,247.9h0M251.1,249.2h0M251.1,250.6h0M251.2,251.9h0M251.3,253.2h0M251.2,254.5h0M250.7,255.9h0M251.1,257.2h0M251.1,258.5h0M251.3,259.8h0M251.2,261.2h0M251.0,262.5h0M251.0,263.8h0M251.1,265.2h0M251.0,266.5h0M251.4,267.8h0M251.2,269.1h0M251.9,245.1h0M251.6,246.4h0M251.6,247.8h0M251.5,249.1h0M251.4,250.4h0M251.5,251.7h0M251.5,253.1h0M251.7,254.4h0M251.7,255.7h0M251.7,257.0h0M251.5,258.4h0M251.7,259.7h0M251.4,261.0h0M251.6,262.3h0M251.8,263.7h0M251.8,265.0h0M251.8,266.3h0M251.9,267.6h0M251.7,269.0h0M251.9,245.3h0M252.1,246.6h0M251.9,247.9h0M252.0,249.3h0M251.9,250.6h0M251.8,251.9h0M252.4,253.3h0M252.2,254.6h0M251.7,255.9h0M252.1,257.3h0M252.0,258.6h0M251.7,259.9h0M252.0,261.3h0M252.1,262.6h0M252.1,263.9h0M252.2,265.3h0M251.9,266.6h0M252.0,267.9h0M252.6,245.6h0M252.5,246.9h0M252.7,248.3h0M252.3,249.6h0M252.3,251.0h0M252.8,252.3h0M252.6,253.7h0M252.7,255.0h0M252.5,256.4h0M252.4,257.7h0M252.4,259.1h0M252.5,260.5h0M252.4,261.8h0M252.5,263.2h0M252.5,264.5h0M252.6,265.9h0M252.6,267.2h0M252.7,268.6h0M253.1,245.6h0M253.0,246.9h0M252.6,248.2h0M253.0,249.5h0M253.0,250.9h0M252.9,252.2h0M252.9,253.5h0M252.8,254.8h0M253.1,256.2h0M253.1,257.5h0M253.0,258.8h0M253.1,260.1h0M253.1,261.5h0M252.8,262.8h0M252.8,264.1h0M252.8,265.4h0M253.1,266.8h0M253.0,268.1h0M253.4,246.0h0M253.2,247.3h0M253.4,248.7h0M253.7,250.0h0M253.3,251.3h0M253.3,252.6h0M253.4,254.0h0M253.6,255.3h0M253.4,256.6h0M253.2,258.0h0M253.3,259.3h0M253.4,260.6h0M253.4,262.0h0M253.6,263.3h0M253.8,264.6h0M253.6,265.9h0M253.5,267.3h0M253.4,268.6h0M254.0,245.6h0M254.0,246.9h0M253.8,248.3h0M254.0,249.7h0M253.8,251.0h0M253.8,252.4h0M253.8,253.7h0M253.9,255.1h0M253.8,256.4h0M254.0,257.8h0M253.9,259.2h0M253.8,260.5h0M254.0,261.9h0M254.0,263.2h0M254.0,264.6h0M253.7,265.9h0M254.1,267.3h0M253.9,268.7h0M200.8,255.0h0" stroke="#ff0000" stroke-width="3.5" stroke-linecap="round" fill="none"/>
<path d="M253.7,245.0h0M253.9,246.0h0M253.8,247.0h0M253.9,248.0h0M253.8,249.0h0M253.7,252.3h0M253.8,253.3h0M253.6,254.3h0M253.9,255.3h0M253.7,256.3h0M254.0,257.3h0M254.1,258.3h0M253.7,259.3h0M253.8,260.3h0M254.0,261.3h0" stroke="#0000ff" stroke-width="3.6" stroke-linecap="round" fill="none"/>
<text x="192.40" y="200.50" font-size="13" text-anchor="middle" font-weight="bold" fill="#0000ff" font-family="Liberation Sans, Arial, sans-serif" stroke="#0000ff" stroke-width="0.3">HRS</text>
<text x="192.60" y="236.90" font-size="13" text-anchor="middle" font-weight="bold" fill="#ff0000" font-family="Liberation Sans, Arial, sans-serif" stroke="#ff0000" stroke-width="0.3">LRS</text>
<path d="M365.3,272.6 L366.5,272.3 L367.5,268.0 L369.6,235.0 L371.0,195.0 L371.8,178.0 L372.5,173.6 L373.5,173.3 L375.0,175.0 L377.0,177.0 L378.5,177.6 L382.0,177.2 L390.0,177.5 L433.2,177.3 L434.5,178.0 L460.0,214.4 L497.0,271.6 L499.0,272.3 L507.5,272.6" stroke="#ff0000" stroke-width="1.45" fill="none" stroke-linejoin="round"/>
<path d="M365.3,275.2 L368.0,275.6 L370.0,276.0 L372.0,275.3 L373.0,273.0 L374.0,262.0 L375.0,235.0 L376.0,210.0 L377.0,199.0 L378.0,197.0 L379.3,199.5 L381.0,203.4 L382.5,200.0 L384.0,196.3 L385.5,199.0 L388.2,207.2 L390.0,204.5 L392.0,200.5 L393.8,199.5 L396.0,201.5 L398.9,203.9 L402.0,202.8 L410.0,202.6 L420.0,202.4 L423.0,202.8 L426.0,202.2 L436.3,202.0 L437.5,203.0 L439.0,206.0 L444.7,219.0 L451.8,235.0 L454.4,242.8 L458.0,249.5 L462.0,255.5 L466.0,260.5 L469.6,264.4 L475.0,268.5 L481.0,272.0 L485.0,273.6 L490.0,274.6 L498.0,275.2 L507.5,275.4" stroke="#0000ff" stroke-width="1.45" fill="none" stroke-linejoin="round"/>
<rect x="363.60" y="166.90" width="145.30" height="112.90" fill="none" stroke="#000" stroke-width="2.1"/>
<path d="M363.60,272.30L368.10,272.30M504.40,275.40L508.90,275.40M363.60,255.20L368.10,255.20M504.40,258.32L508.90,258.32M363.60,238.10L368.10,238.10M504.40,241.24L508.90,241.24M363.60,221.00L368.10,221.00M504.40,224.16L508.90,224.16M363.60,203.90L368.10,203.90M504.40,207.08L508.90,207.08M363.60,186.80L368.10,186.80M504.40,190.00L508.90,190.00M363.60,169.70L368.10,169.70M504.40,172.92L508.90,172.92M390.30,279.80L390.30,275.30M390.30,166.90L390.30,171.40M415.30,279.80L415.30,275.30M415.30,166.90L415.30,171.40M440.30,279.80L440.30,275.30M440.30,166.90L440.30,171.40M465.30,279.80L465.30,275.30M465.30,166.90L465.30,171.40M490.30,279.80L490.30,275.30M490.30,166.90L490.30,171.40" stroke="#000" stroke-width="1.1" fill="none"/>
<text transform="translate(359.30,276.60) scale(1.2,1)" font-size="10.2" text-anchor="end" font-weight="normal" fill="#ff0000" stroke="#ff0000" stroke-width="0.12" font-family="Liberation Sans, Arial, sans-serif">0</text>
<text transform="translate(359.30,259.30) scale(1.2,1)" font-size="10.2" text-anchor="end" font-weight="normal" fill="#ff0000" stroke="#ff0000" stroke-width="0.12" font-family="Liberation Sans, Arial, sans-serif">0.2</text>
<text transform="translate(359.30,242.00) scale(1.2,1)" font-size="10.2" text-anchor="end" font-weight="normal" fill="#ff0000" stroke="#ff0000" stroke-width="0.12" font-family="Liberation Sans, Arial, sans-serif">0.4</text>
<text transform="translate(359.30,224.70) scale(1.2,1)" font-size="10.2" text-anchor="end" font-weight="normal" fill="#ff0000" stroke="#ff0000" stroke-width="0.12" font-family="Liberation Sans, Arial, sans-serif">0.6</text>
<text transform="translate(359.30,207.40) scale(1.2,1)" font-size="10.2" text-anchor="end" font-weight="normal" fill="#ff0000" stroke="#ff0000" stroke-width="0.12" font-family="Liberation Sans, Arial, sans-serif">0.8</text>
<text transform="translate(359.30,190.10) scale(1.2,1)" font-size="10.2" text-anchor="end" font-weight="normal" fill="#ff0000" stroke="#ff0000" stroke-width="0.12" font-family="Liberation Sans, Arial, sans-serif">1</text>
<text transform="translate(359.30,172.80) scale(1.2,1)" font-size="10.2" text-anchor="end" font-weight="normal" fill="#ff0000" stroke="#ff0000" stroke-width="0.12" font-family="Liberation Sans, Arial, sans-serif">1.2</text>
<text transform="translate(512.40,279.00) scale(1.2,1)" font-size="10.2" text-anchor="start" font-weight="normal" fill="#0000ff" stroke="#0000ff" stroke-width="0.12" font-family="Liberation Sans, Arial, sans-serif">0</text>
<text transform="translate(512.40,261.82) scale(1.2,1)" font-size="10.2" text-anchor="start" font-weight="normal" fill="#0000ff" stroke="#0000ff" stroke-width="0.12" font-family="Liberation Sans, Arial, sans-serif">0.4</text>
<text transform="translate(512.40,244.64) scale(1.2,1)" font-size="10.2" text-anchor="start" font-weight="normal" fill="#0000ff" stroke="#0000ff" stroke-width="0.12" font-family="Liberation Sans, Arial, sans-serif">0.8</text>
<text transform="translate(512.40,227.46) scale(1.2,1)" font-size="10.2" text-anchor="start" font-weight="normal" fill="#0000ff" stroke="#0000ff" stroke-width="0.12" font-family="Liberation Sans, Arial, sans-serif">1.2</text>
<text transform="translate(512.40,210.28) scale(1.2,1)" font-size="10.2" text-anchor="start" font-weight="normal" fill="#0000ff" stroke="#0000ff" stroke-width="0.12" font-family="Liberation Sans, Arial, sans-serif">1.6</text>
<text transform="translate(512.40,193.10) scale(1.2,1)" font-size="10.2" text-anchor="start" font-weight="normal" fill="#0000ff" stroke="#0000ff" stroke-width="0.12" font-family="Liberation Sans, Arial, sans-serif">2</text>
<text transform="translate(512.40,175.92) scale(1.2,1)" font-size="10.2" text-anchor="start" font-weight="normal" fill="#0000ff" stroke="#0000ff" stroke-width="0.12" font-family="Liberation Sans, Arial, sans-serif">2.4</text>
<text transform="translate(365.30,294.90) scale(1.2,1)" font-size="10.2" text-anchor="middle" font-weight="normal" fill="#000" stroke="#000" stroke-width="0.0" font-family="Liberation Sans, Arial, sans-serif">0</text>
<text transform="translate(390.30,294.90) scale(1.2,1)" font-size="10.2" text-anchor="middle" font-weight="normal" fill="#000" stroke="#000" stroke-width="0.0" font-family="Liberation Sans, Arial, sans-serif">0.2</text>
<text transform="translate(415.30,294.90) scale(1.2,1)" font-size="10.2" text-anchor="middle" font-weight="normal" fill="#000" stroke="#000" stroke-width="0.0" font-family="Liberation Sans, Arial, sans-serif">0.4</text>
<text transform="translate(440.30,294.90) scale(1.2,1)" font-size="10.2" text-anchor="middle" font-weight="normal" fill="#000" stroke="#000" stroke-width="0.0" font-family="Liberation Sans, Arial, sans-serif">0.6</text>
<text transform="translate(465.30,294.90) scale(1.2,1)" font-size="10.2" text-anchor="middle" font-weight="normal" fill="#000" stroke="#000" stroke-width="0.0" font-family="Liberation Sans, Arial, sans-serif">0.8</text>
<text transform="translate(490.30,294.90) scale(1.2,1)" font-size="10.2" text-anchor="middle" font-weight="normal" fill="#000" stroke="#000" stroke-width="0.0" font-family="Liberation Sans, Arial, sans-serif">1</text>
<text transform="translate(436.50,309.80) scale(1.2,1)" font-size="12.2" text-anchor="middle" font-weight="normal" fill="#000" stroke="#000" stroke-width="0.0" font-family="Liberation Sans, Arial, sans-serif">Time (μs)</text>
<text transform="translate(338.4,223.2) rotate(-90) scale(1,1.28)" font-size="11.7" text-anchor="middle" fill="#ff0000" stroke="#ff0000" stroke-width="0.2" font-family="Liberation Sans, Arial, sans-serif">Voltage (V)</text>
<text transform="translate(543.6,222.7) rotate(-90) scale(1,1.09)" font-size="12.2" text-anchor="middle" fill="#0000ff" stroke="#0000ff" stroke-width="0.2" font-family="Liberation Sans, Arial, sans-serif">Current (mA)</text>
<text transform="translate(388.20,191.20) scale(1.2,1)" font-size="10.2" text-anchor="start" font-weight="bold" fill="#ff0000" stroke="#ff0000" stroke-width="0.12" font-family="Liberation Sans, Arial, sans-serif">Voltage</text>
<text transform="translate(371.90,192.00) scale(1.0,1)" font-size="14" text-anchor="start" font-weight="bold" fill="#ff0000" stroke="#ff0000" stroke-width="0.12" font-family="Liberation Sans, Arial, sans-serif">◄</text>
<text transform="translate(379.00,217.00) scale(1.2,1)" font-size="10.2" text-anchor="start" font-weight="bold" fill="#0000ff" stroke="#0000ff" stroke-width="0.12" font-family="Liberation Sans, Arial, sans-serif">Current</text>
<text transform="translate(426.60,217.90) scale(1.0,1)" font-size="14" text-anchor="start" font-weight="bold" fill="#0000ff" stroke="#0000ff" stroke-width="0.12" font-family="Liberation Sans, Arial, sans-serif">►</text>
<text x="306.30" y="173.90" font-size="16" text-anchor="start" font-weight="bold" fill="#000" font-family="Liberation Sans, Arial, sans-serif" stroke="#000" stroke-width="0.25">e</text>
<path d="M619.4,269.2 L621.0,268.3 L622.5,268.6 L624.0,269.0 L625.5,268.9 L627.0,269.1 L628.5,268.8 L630.0,268.6 L631.5,268.9 L633.0,268.6 L634.5,268.5 L636.0,268.3 L637.5,268.9 L639.0,269.1 L640.5,268.4 L642.0,268.7 L643.5,268.0 L645.0,268.4 L646.5,268.9 L648.0,268.4 L649.5,269.1 L651.0,268.7 L652.5,269.0 L654.0,268.7 L655.5,268.3 L657.0,268.9 L658.5,269.2 L660.0,268.7 L661.5,269.0 L663.0,268.6 L664.5,268.7 L666.0,269.4 L667.5,268.9 L669.0,268.5 L670.5,269.1 L672.0,268.9 L673.5,268.7 L675.0,269.1 L676.5,267.8 L678.0,269.1 L679.5,269.6 L681.0,269.0 L682.5,268.1 L684.0,269.4 L685.5,269.9 L687.0,269.1 L688.5,268.5 L690.0,268.6 L691.5,268.8 L693.0,269.0 L694.5,269.3 L696.0,269.1 L697.5,268.0 L699.0,268.8 L700.5,268.8 L702.0,269.6 L703.5,268.7 L705.0,268.3 L706.5,268.8 L708.0,269.0 L709.5,268.2 L711.0,269.3 L712.5,268.8 L714.0,269.2 L715.5,269.2 L717.0,269.1 L718.5,269.4 L720.0,269.5 L721.5,268.7 L723.0,268.9 L724.5,269.3 L726.0,268.9 L727.5,268.7 L729.0,268.9 L730.5,268.6 L732.0,268.7 L733.5,267.6 L735.0,268.9 L736.5,269.6 L738.0,269.2 L739.5,269.2 L741.0,269.0 L742.5,268.6 L744.0,269.1 L745.5,268.9 L747.0,268.8 L748.5,269.0 L750.0,268.7 L751.5,268.9 L753.0,269.1 L754.5,269.3 L756.0,269.0 L757.5,269.2 L759.0,269.0 L760.5,268.0 L762.0,268.1 L763.5,268.8 L766.2,268.6 L768.8,267.6 L766.8,267.2 L766.6,262.0 L766.0,255.0 L765.2,248.0 L764.3,243.0 L764.0,232.0 L763.6,222.0 L763.5,212.0 L764.0,204.0 L764.5,197.0 L765.0,190.0 L765.6,186.0 L766.3,187.5 L767.5,192.7 L768.8,188.0 L770.3,182.5 L771.6,178.6 L772.4,177.3 L773.3,178.8 L774.5,182.5 L775.8,186.8" stroke="#0000ff" stroke-width="1.8" fill="none" stroke-linejoin="round"/>
<path d="M619.4,269.3 L621.6,269.2 L623.8,269.1 L626.0,269.0 L628.2,268.9 L630.4,268.8 L632.6,268.7 L634.8,268.6 L637.0,268.4 L639.2,268.3 L641.4,267.7 L643.6,268.3 L645.8,267.3 L648.0,267.6 L650.2,267.4 L652.4,267.1 L654.6,267.0 L656.8,267.0 L659.0,266.7 L661.2,266.1 L663.4,266.1 L665.6,265.9 L667.8,265.1 L670.0,264.5 L672.2,264.0 L674.4,263.7 L676.6,263.0 L678.8,262.5 L681.0,262.9 L683.2,261.4 L685.4,259.9 L687.6,259.1 L689.8,258.0 L692.0,257.1 L694.2,255.8 L696.4,253.4 L698.6,253.5 L700.8,250.6 L703.0,249.4 L705.2,247.4 L707.4,245.3 L709.6,243.3 L711.8,242.9 L714.0,240.7 L716.2,237.2 L718.4,234.8 L720.6,233.6 L722.8,230.1 L725.0,228.2 L727.2,226.3 L729.4,223.0 L731.6,220.3 L733.8,216.9 L736.0,213.5 L738.2,211.2 L740.4,207.9 L742.6,206.0 L744.8,202.4 L747.0,200.3 L749.2,198.3 L751.4,196.3 L753.6,193.9 L755.8,190.6 L758.0,188.8 L760.2,188.6 L762.4,187.4 L764.6,184.4 L766.8,180.8 L769.0,176.2 L771.2,175.4 L772.1,176.0" stroke="#ff0000" stroke-width="2.4" fill="none" stroke-linejoin="round"/>
<path d="M717.0,236.4 L718.9,226.2 L727.2,231.0 Z" fill="#ff0000" stroke="#ff0000" stroke-width="0.6" stroke-linejoin="round"/>
<path d="M730.6,269.1 L722.3,265.2 L722.3,273.1 Z" fill="#0000ff" stroke="#0000ff" stroke-width="0.5" stroke-linejoin="round"/>
<path d="M616.85,165.70H780.05M616.85,278.60H780.05" stroke="#000" stroke-width="2.1" fill="none"/>
<path d="M618.20,165.70V278.60M778.70,165.70V278.60" stroke="#000" stroke-width="2.7" fill="none"/>
<path d="M618.20,269.00L623.20,269.00M773.70,269.00L778.70,269.00M618.20,252.64L623.20,252.64M773.70,252.64L778.70,252.64M618.20,236.28L623.20,236.28M773.70,236.28L778.70,236.28M618.20,219.92L623.20,219.92M773.70,219.92L778.70,219.92M618.20,203.56L623.20,203.56M773.70,203.56L778.70,203.56M618.20,187.20L623.20,187.20M773.70,187.20L778.70,187.20M618.20,170.84L623.20,170.84M773.70,170.84L778.70,170.84M643.60,278.60L643.60,273.60M643.60,165.70L643.60,170.70M667.80,278.60L667.80,273.60M667.80,165.70L667.80,170.70M692.00,278.60L692.00,273.60M692.00,165.70L692.00,170.70M716.20,278.60L716.20,273.60M716.20,165.70L716.20,170.70M740.40,278.60L740.40,273.60M740.40,165.70L740.40,170.70M764.60,278.60L764.60,273.60M764.60,165.70L764.60,170.70" stroke="#000" stroke-width="1.1" fill="none"/>
<text x="614.40" y="272.80" font-size="10.6" text-anchor="end" font-weight="normal" fill="#000" font-family="Liberation Sans, Arial, sans-serif" >0</text>
<text x="614.40" y="256.44" font-size="10.6" text-anchor="end" font-weight="normal" fill="#000" font-family="Liberation Sans, Arial, sans-serif" >0.4</text>
<text x="614.40" y="240.08" font-size="10.6" text-anchor="end" font-weight="normal" fill="#000" font-family="Liberation Sans, Arial, sans-serif" >0.8</text>
<text x="614.40" y="223.72" font-size="10.6" text-anchor="end" font-weight="normal" fill="#000" font-family="Liberation Sans, Arial, sans-serif" >1.2</text>
<text x="614.40" y="207.36" font-size="10.6" text-anchor="end" font-weight="normal" fill="#000" font-family="Liberation Sans, Arial, sans-serif" >1.6</text>
<text x="614.40" y="191.00" font-size="10.6" text-anchor="end" font-weight="normal" fill="#000" font-family="Liberation Sans, Arial, sans-serif" >2</text>
<text x="614.40" y="174.64" font-size="10.6" text-anchor="end" font-weight="normal" fill="#000" font-family="Liberation Sans, Arial, sans-serif" >2.4</text>
<text x="619.40" y="293.80" font-size="10.6" text-anchor="middle" font-weight="normal" fill="#000" font-family="Liberation Sans, Arial, sans-serif" >0</text>
<text x="643.60" y="293.80" font-size="10.6" text-anchor="middle" font-weight="normal" fill="#000" font-family="Liberation Sans, Arial, sans-serif" >0.2</text>
<text x="667.80" y="293.80" font-size="10.6" text-anchor="middle" font-weight="normal" fill="#000" font-family="Liberation Sans, Arial, sans-serif" >0.4</text>
<text x="692.00" y="293.80" font-size="10.6" text-anchor="middle" font-weight="normal" fill="#000" font-family="Liberation Sans, Arial, sans-serif" >0.6</text>
<text x="716.20" y="293.80" font-size="10.6" text-anchor="middle" font-weight="normal" fill="#000" font-family="Liberation Sans, Arial, sans-serif" >0.8</text>
<text x="740.40" y="293.80" font-size="10.6" text-anchor="middle" font-weight="normal" fill="#000" font-family="Liberation Sans, Arial, sans-serif" >1</text>
<text x="764.60" y="293.80" font-size="10.6" text-anchor="middle" font-weight="normal" fill="#000" font-family="Liberation Sans, Arial, sans-serif" >1.2</text>
<text x="698.00" y="308.80" font-size="13" text-anchor="middle" font-weight="normal" fill="#000" font-family="Liberation Sans, Arial, sans-serif" >Voltage (V)</text>
<text transform="translate(594.60,221.50) rotate(-90)" font-size="13" text-anchor="middle" font-weight="normal" fill="#000" font-family="Liberation Sans, Arial, sans-serif" >Current (mA)</text>
<text x="563.80" y="177.00" font-size="16" text-anchor="start" font-weight="bold" fill="#000" font-family="Liberation Sans, Arial, sans-serif" stroke="#000" stroke-width="0.25">f</text>
<text x="711.20" y="220.30" font-size="13" text-anchor="middle" font-weight="bold" fill="#ff0000" font-family="Liberation Sans, Arial, sans-serif" stroke="#ff0000" stroke-width="0.3">LRS</text>
<text x="714.70" y="262.20" font-size="13" text-anchor="middle" font-weight="bold" fill="#0000ff" font-family="Liberation Sans, Arial, sans-serif" stroke="#0000ff" stroke-width="0.3">HRS</text>
</svg></body></html>
